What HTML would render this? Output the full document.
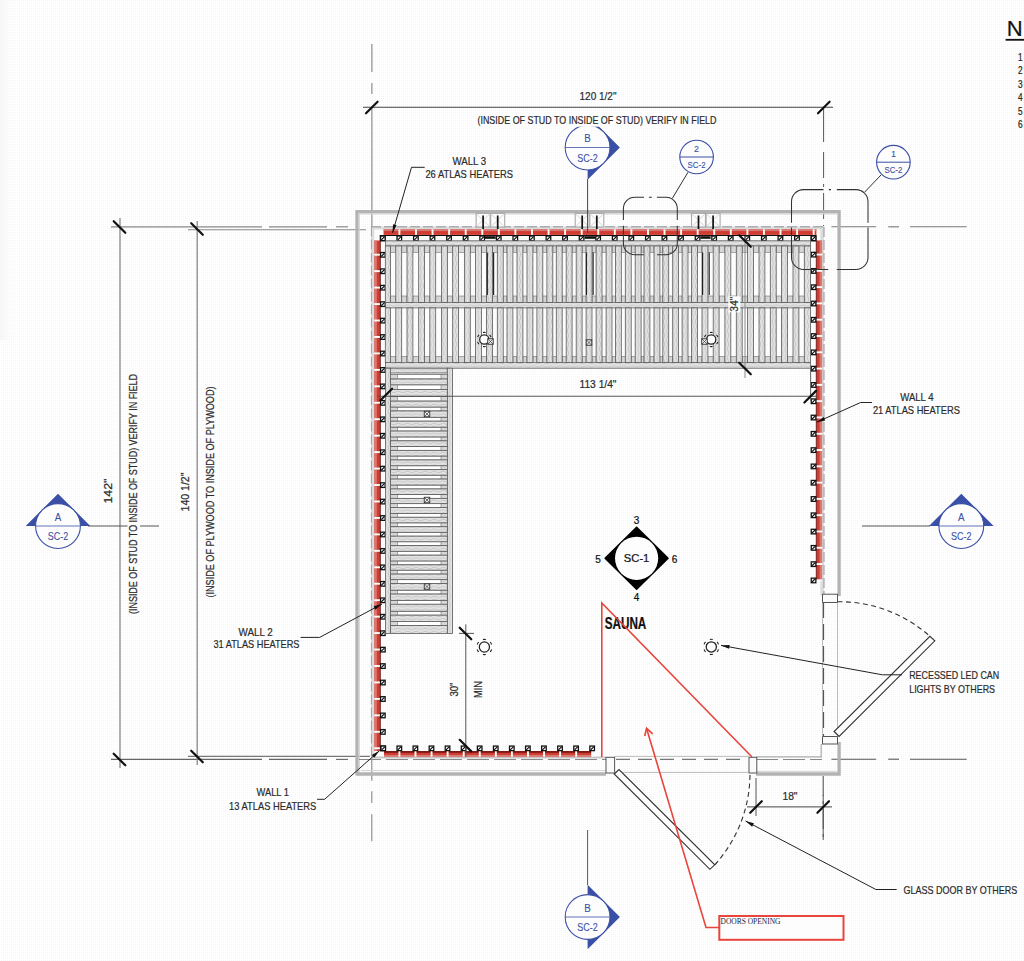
<!DOCTYPE html><html><head><meta charset="utf-8"><style>html,body{margin:0;padding:0;background:#fdfdfd;overflow:hidden}svg{display:block}</style></head><body><svg width="1024" height="961" viewBox="0 0 1024 961">
<defs><linearGradient id="lg" x1="0" x2="1" y1="0" y2="0"><stop offset="0" stop-color="#ececec"/><stop offset="1" stop-color="#fdfdfd" stop-opacity="0"/></linearGradient><pattern id="wh" width="9" height="3.2" patternUnits="userSpaceOnUse"><rect width="9" height="3.2" fill="#e2e2e2"/><path d="M0,1.6 Q2.25,0.2 4.5,1.6 T9,1.6" fill="none" stroke="#bcbcbc" stroke-width="0.8"/></pattern><pattern id="wv" width="9" height="3.2" patternUnits="userSpaceOnUse" patternTransform="rotate(90)"><rect width="9" height="3.2" fill="#e2e2e2"/><path d="M0,1.6 Q2.25,0.2 4.5,1.6 T9,1.6" fill="none" stroke="#bcbcbc" stroke-width="0.8"/></pattern><linearGradient id="lg2" x1="0" x2="0" y1="0" y2="1"><stop offset="0" stop-color="#fff" stop-opacity="0"/><stop offset="0.7" stop-color="#fff" stop-opacity="0"/><stop offset="1" stop-color="#fdfdfd" stop-opacity="1"/></linearGradient></defs>
<pattern id="dots" width="2" height="2" patternUnits="userSpaceOnUse"><rect width="2" height="2" fill="#ffffff"/><rect x="1" y="0" width="1" height="1" fill="#f6f6f6"/></pattern>
<rect x="0" y="0" width="1024" height="961" fill="url(#dots)"/>
<rect x="0" y="0" width="14" height="340" fill="url(#lg)" opacity="0.45"/>
<line x1="371.9" y1="44" x2="371.9" y2="96" stroke="#777" stroke-width="1" stroke-dasharray="28 11 11 11"/>
<line x1="371.9" y1="107" x2="371.9" y2="226" stroke="#777" stroke-width="1" />
<line x1="371.8" y1="757" x2="371.8" y2="780.8" stroke="#888" stroke-width="1.1" />
<line x1="371.8" y1="791.3" x2="371.8" y2="802.9" stroke="#888" stroke-width="1.1" />
<line x1="371.8" y1="814.2" x2="371.8" y2="841.3" stroke="#888" stroke-width="1.1" />
<line x1="823.6" y1="107" x2="823.6" y2="142" stroke="#555" stroke-width="1" />
<line x1="823.6" y1="152" x2="823.6" y2="226" stroke="#555" stroke-width="1" stroke-dasharray="26 6 3 6"/>
<line x1="823.6" y1="602" x2="823.6" y2="737" stroke="#444" stroke-width="1" stroke-dasharray="16 6"/>
<line x1="823.2" y1="776" x2="823.2" y2="840" stroke="#444" stroke-width="1" stroke-dasharray="20 5 3 5"/>
<line x1="831.4" y1="226.8" x2="876.2" y2="226.8" stroke="#777" stroke-width="1.1" />
<line x1="888.2" y1="226.8" x2="899" y2="226.8" stroke="#777" stroke-width="1.1" />
<line x1="910" y1="226.8" x2="966.7" y2="226.8" stroke="#777" stroke-width="1.1" />
<line x1="111" y1="226.8" x2="262" y2="226.8" stroke="#888" stroke-width="1.2" />
<line x1="269" y1="226.8" x2="327" y2="226.8" stroke="#888" stroke-width="1.2" />
<line x1="336" y1="226.8" x2="348" y2="226.8" stroke="#888" stroke-width="1.2" />
<line x1="188" y1="229.8" x2="366" y2="229.8" stroke="#888" stroke-width="1.1" />
<line x1="111" y1="759.4" x2="262" y2="759.4" stroke="#666" stroke-width="1.1" />
<line x1="269" y1="759.4" x2="327" y2="759.4" stroke="#666" stroke-width="1.1" />
<line x1="336" y1="759.4" x2="348" y2="759.4" stroke="#666" stroke-width="1.1" />
<line x1="188" y1="756.3" x2="370" y2="756.3" stroke="#555" stroke-width="1" />
<line x1="831.4" y1="759.2" x2="876.2" y2="759.2" stroke="#555" stroke-width="1.1" />
<line x1="888.2" y1="759.2" x2="899" y2="759.2" stroke="#555" stroke-width="1.1" />
<line x1="910" y1="759.2" x2="966.7" y2="759.2" stroke="#555" stroke-width="1.1" />
<line x1="363" y1="107.3" x2="833" y2="107.3" stroke="#444" stroke-width="1.1" />
<line x1="366" y1="113.3" x2="377.6" y2="101.7" stroke="#111" stroke-width="2.2" stroke-linecap="round"/>
<line x1="818" y1="113.3" x2="829.6" y2="101.7" stroke="#111" stroke-width="2.2" stroke-linecap="round"/>
<text x="598" y="99.6" font-family='"Liberation Sans", sans-serif' font-size="11.5" fill="#2a2a2a" text-anchor="middle" font-weight="normal" textLength="37" lengthAdjust="spacingAndGlyphs" stroke="#2a2a2a" stroke-width="0.22" >120 1/2"</text>
<text x="597" y="123.5" font-family='"Liberation Sans", sans-serif' font-size="11.5" fill="#2a2a2a" text-anchor="middle" font-weight="normal" textLength="239" lengthAdjust="spacingAndGlyphs" stroke="#2a2a2a" stroke-width="0.22" >(INSIDE OF STUD TO INSIDE OF STUD) VERIFY IN FIELD</text>
<line x1="120" y1="218" x2="120" y2="768" stroke="#888" stroke-width="1.3" />
<line x1="197.2" y1="221" x2="197.2" y2="765" stroke="#888" stroke-width="1.3" />
<line x1="113.7" y1="221.2" x2="125.3" y2="232.8" stroke="#111" stroke-width="2.2" stroke-linecap="round"/>
<line x1="191.2" y1="223.2" x2="202.8" y2="234.8" stroke="#111" stroke-width="2.2" stroke-linecap="round"/>
<line x1="113.7" y1="753.7" x2="125.3" y2="765.3" stroke="#111" stroke-width="2.2" stroke-linecap="round"/>
<line x1="191.2" y1="750.7" x2="202.8" y2="762.3" stroke="#111" stroke-width="2.2" stroke-linecap="round"/>
<text x="0" y="0" font-family='"Liberation Sans", sans-serif' font-size="11" fill="#2a2a2a" text-anchor="middle" font-weight="normal" textLength="25" lengthAdjust="spacingAndGlyphs" stroke="#2a2a2a" stroke-width="0.22" transform="translate(111.8,491) rotate(-90)">142"</text>
<text x="0" y="0" font-family='"Liberation Sans", sans-serif' font-size="11" fill="#2a2a2a" text-anchor="middle" font-weight="normal" textLength="240" lengthAdjust="spacingAndGlyphs" stroke="#2a2a2a" stroke-width="0.22" transform="translate(137,494) rotate(-90)">(INSIDE OF STUD TO INSIDE OF STUD) VERIFY IN FIELD</text>
<text x="0" y="0" font-family='"Liberation Sans", sans-serif' font-size="11" fill="#2a2a2a" text-anchor="middle" font-weight="normal" textLength="39" lengthAdjust="spacingAndGlyphs" stroke="#2a2a2a" stroke-width="0.22" transform="translate(189,492) rotate(-90)">140 1/2"</text>
<text x="0" y="0" font-family='"Liberation Sans", sans-serif' font-size="11" fill="#2a2a2a" text-anchor="middle" font-weight="normal" textLength="211" lengthAdjust="spacingAndGlyphs" stroke="#2a2a2a" stroke-width="0.22" transform="translate(214,492) rotate(-90)">(INSIDE OF PLYWOOD TO INSIDE OF PLYWOOD)</text>
<line x1="88" y1="526" x2="127.5" y2="526" stroke="#555" stroke-width="1" />
<line x1="140" y1="526" x2="159" y2="526" stroke="#555" stroke-width="1" />
<line x1="862" y1="526" x2="930" y2="526" stroke="#555" stroke-width="1" />
<g id="room">
<path d="M357,775.5 L357,211.6 L839.1,211.6 L839.1,596" fill="none" stroke="#b3b3b3" stroke-width="3.3"/>
<line x1="359.3" y1="213.9" x2="837" y2="213.9" stroke="#d2d2d2" stroke-width="1.1" />
<line x1="359.3" y1="213.9" x2="359.3" y2="772" stroke="#d2d2d2" stroke-width="1.1" />
<path d="M357,774 L606,774" fill="none" stroke="#b3b3b3" stroke-width="3.3"/>
<path d="M756,774 L839.1,774 L839.1,742" fill="none" stroke="#b3b3b3" stroke-width="3.3"/>
<line x1="757" y1="771.3" x2="837" y2="771.3" stroke="#d2d2d2" stroke-width="1" />
<rect x="371" y="226.5" width="452" height="3" fill="#dcdcdc" stroke="none" stroke-width="1" />
<rect x="371" y="226.5" width="3.3" height="531" fill="#dcdcdc" stroke="none" stroke-width="1" />
<rect x="820.3" y="226.5" width="3.6" height="369" fill="#dcdcdc" stroke="none" stroke-width="1" />
<line x1="371" y1="226.8" x2="824" y2="226.8" stroke="#888" stroke-width="0.9" stroke-dasharray="10 3"/>
<line x1="371.4" y1="226.5" x2="371.4" y2="758" stroke="#999" stroke-width="0.9" stroke-dasharray="10 3"/>
<line x1="824" y1="227" x2="824" y2="595" stroke="#888" stroke-width="0.9" stroke-dasharray="10 3"/>
<rect x="371" y="756.5" width="235" height="2" fill="#c8c8c8" stroke="none" stroke-width="1" />
<line x1="359" y1="759.5" x2="606" y2="759.5" stroke="#888" stroke-width="1" stroke-dasharray="22 5"/>
<line x1="361" y1="770.6" x2="606" y2="770.6" stroke="#d0d0d0" stroke-width="1" />
<line x1="756.5" y1="756.8" x2="821.5" y2="756.8" stroke="#aaa" stroke-width="1.2" />
<line x1="756" y1="759.5" x2="822" y2="759.5" stroke="#888" stroke-width="1" stroke-dasharray="22 5"/>
<line x1="821.2" y1="744" x2="821.2" y2="757.4" stroke="#aaa" stroke-width="1.2" />
<rect x="606" y="757.3" width="8.6" height="15.7" fill="#fafafa" stroke="#555" stroke-width="1" />
<rect x="749" y="757.3" width="7.8" height="15.7" fill="#fafafa" stroke="#555" stroke-width="1" />
<rect x="822.5" y="594.2" width="15" height="8.3" fill="#fafafa" stroke="#555" stroke-width="1" />
<rect x="822.5" y="736.5" width="15" height="7.5" fill="#fafafa" stroke="#555" stroke-width="1" />
<line x1="614.6" y1="756.4" x2="749" y2="756.4" stroke="#aaa" stroke-width="0.8" />
<line x1="614.6" y1="772.4" x2="749" y2="772.4" stroke="#aaa" stroke-width="0.8" />
<line x1="616" y1="759.3" x2="748" y2="759.3" stroke="#555" stroke-width="1" stroke-dasharray="14 8"/>
<line x1="822.5" y1="602.5" x2="822.5" y2="736.5" stroke="#aaa" stroke-width="0.8" />
<line x1="837.5" y1="602.5" x2="837.5" y2="736.5" stroke="#aaa" stroke-width="0.8" />
<rect x="476.1" y="213.4" width="14" height="13.6" fill="#fbfbfb" stroke="#aaa" stroke-width="1.1" />
<line x1="477.1" y1="214.5" x2="489.1" y2="226" stroke="#ccc" stroke-width="0.8" />
<line x1="489.1" y1="214.5" x2="477.1" y2="226" stroke="#ccc" stroke-width="0.8" />
<line x1="483.1" y1="215.5" x2="483.1" y2="229" stroke="#111" stroke-width="1.7" />
<line x1="483.1" y1="229" x2="483.1" y2="237" stroke="#777" stroke-width="1" />
<rect x="490.7" y="213.4" width="14" height="13.6" fill="#fbfbfb" stroke="#aaa" stroke-width="1.1" />
<line x1="491.7" y1="214.5" x2="503.7" y2="226" stroke="#ccc" stroke-width="0.8" />
<line x1="503.7" y1="214.5" x2="491.7" y2="226" stroke="#ccc" stroke-width="0.8" />
<line x1="497.7" y1="215.5" x2="497.7" y2="229" stroke="#111" stroke-width="1.7" />
<line x1="497.7" y1="229" x2="497.7" y2="237" stroke="#777" stroke-width="1" />
<rect x="575.2" y="213.4" width="14" height="13.6" fill="#fbfbfb" stroke="#aaa" stroke-width="1.1" />
<line x1="576.2" y1="214.5" x2="588.2" y2="226" stroke="#ccc" stroke-width="0.8" />
<line x1="588.2" y1="214.5" x2="576.2" y2="226" stroke="#ccc" stroke-width="0.8" />
<line x1="582.2" y1="215.5" x2="582.2" y2="229" stroke="#111" stroke-width="1.7" />
<line x1="582.2" y1="229" x2="582.2" y2="237" stroke="#777" stroke-width="1" />
<rect x="589.8" y="213.4" width="14" height="13.6" fill="#fbfbfb" stroke="#aaa" stroke-width="1.1" />
<line x1="590.8" y1="214.5" x2="602.8" y2="226" stroke="#ccc" stroke-width="0.8" />
<line x1="602.8" y1="214.5" x2="590.8" y2="226" stroke="#ccc" stroke-width="0.8" />
<line x1="596.8" y1="215.5" x2="596.8" y2="229" stroke="#111" stroke-width="1.7" />
<line x1="596.8" y1="229" x2="596.8" y2="237" stroke="#777" stroke-width="1" />
<rect x="691.5" y="213.4" width="14" height="13.6" fill="#fbfbfb" stroke="#aaa" stroke-width="1.1" />
<line x1="692.5" y1="214.5" x2="704.5" y2="226" stroke="#ccc" stroke-width="0.8" />
<line x1="704.5" y1="214.5" x2="692.5" y2="226" stroke="#ccc" stroke-width="0.8" />
<line x1="698.5" y1="215.5" x2="698.5" y2="229" stroke="#111" stroke-width="1.7" />
<line x1="698.5" y1="229" x2="698.5" y2="237" stroke="#777" stroke-width="1" />
<rect x="706.1" y="213.4" width="14" height="13.6" fill="#fbfbfb" stroke="#aaa" stroke-width="1.1" />
<line x1="707.1" y1="214.5" x2="719.1" y2="226" stroke="#ccc" stroke-width="0.8" />
<line x1="719.1" y1="214.5" x2="707.1" y2="226" stroke="#ccc" stroke-width="0.8" />
<line x1="713.1" y1="215.5" x2="713.1" y2="229" stroke="#111" stroke-width="1.7" />
<line x1="713.1" y1="229" x2="713.1" y2="237" stroke="#777" stroke-width="1" />
</g>
<rect x="383.6" y="229.3" width="432.8" height="5.6" fill="#d13b31" stroke="none" stroke-width="1" />
<rect x="383.6" y="229.3" width="432.8" height="1.8" fill="#d88a85" stroke="none" stroke-width="1" opacity="0.8"/>
<rect x="398.47" y="229.3" width="1.9" height="5.6" fill="#fff" stroke="none" stroke-width="1" />
<rect x="415.04" y="229.3" width="1.9" height="5.6" fill="#fff" stroke="none" stroke-width="1" />
<rect x="431.61" y="229.3" width="1.9" height="5.6" fill="#fff" stroke="none" stroke-width="1" />
<rect x="448.18" y="229.3" width="1.9" height="5.6" fill="#fff" stroke="none" stroke-width="1" />
<rect x="464.75" y="229.3" width="1.9" height="5.6" fill="#fff" stroke="none" stroke-width="1" />
<rect x="481.32" y="229.3" width="1.9" height="5.6" fill="#fff" stroke="none" stroke-width="1" />
<rect x="497.88" y="229.3" width="1.9" height="5.6" fill="#fff" stroke="none" stroke-width="1" />
<rect x="514.45" y="229.3" width="1.9" height="5.6" fill="#fff" stroke="none" stroke-width="1" />
<rect x="531.02" y="229.3" width="1.9" height="5.6" fill="#fff" stroke="none" stroke-width="1" />
<rect x="547.59" y="229.3" width="1.9" height="5.6" fill="#fff" stroke="none" stroke-width="1" />
<rect x="564.16" y="229.3" width="1.9" height="5.6" fill="#fff" stroke="none" stroke-width="1" />
<rect x="580.73" y="229.3" width="1.9" height="5.6" fill="#fff" stroke="none" stroke-width="1" />
<rect x="597.3" y="229.3" width="1.9" height="5.6" fill="#fff" stroke="none" stroke-width="1" />
<rect x="613.87" y="229.3" width="1.9" height="5.6" fill="#fff" stroke="none" stroke-width="1" />
<rect x="630.44" y="229.3" width="1.9" height="5.6" fill="#fff" stroke="none" stroke-width="1" />
<rect x="647.01" y="229.3" width="1.9" height="5.6" fill="#fff" stroke="none" stroke-width="1" />
<rect x="663.58" y="229.3" width="1.9" height="5.6" fill="#fff" stroke="none" stroke-width="1" />
<rect x="680.15" y="229.3" width="1.9" height="5.6" fill="#fff" stroke="none" stroke-width="1" />
<rect x="696.72" y="229.3" width="1.9" height="5.6" fill="#fff" stroke="none" stroke-width="1" />
<rect x="713.28" y="229.3" width="1.9" height="5.6" fill="#fff" stroke="none" stroke-width="1" />
<rect x="729.85" y="229.3" width="1.9" height="5.6" fill="#fff" stroke="none" stroke-width="1" />
<rect x="746.42" y="229.3" width="1.9" height="5.6" fill="#fff" stroke="none" stroke-width="1" />
<rect x="762.99" y="229.3" width="1.9" height="5.6" fill="#fff" stroke="none" stroke-width="1" />
<rect x="779.56" y="229.3" width="1.9" height="5.6" fill="#fff" stroke="none" stroke-width="1" />
<rect x="796.13" y="229.3" width="1.9" height="5.6" fill="#fff" stroke="none" stroke-width="1" />
<rect x="812.7" y="229.3" width="1.9" height="5.6" fill="#fff" stroke="none" stroke-width="1" />
<line x1="379.8" y1="235.5" x2="816.4" y2="235.5" stroke="#111" stroke-width="1" />
<rect x="380.45" y="236.05" width="4.6" height="4.6" fill="#fff" stroke="#111" stroke-width="1.3" />
<line x1="381.2" y1="239.9" x2="384.3" y2="236.8" stroke="#111" stroke-width="1.2" />
<rect x="397.02" y="236.05" width="4.6" height="4.6" fill="#fff" stroke="#111" stroke-width="1.3" />
<line x1="397.77" y1="239.9" x2="400.87" y2="236.8" stroke="#111" stroke-width="1.2" />
<rect x="413.59" y="236.05" width="4.6" height="4.6" fill="#fff" stroke="#111" stroke-width="1.3" />
<line x1="414.34" y1="239.9" x2="417.44" y2="236.8" stroke="#111" stroke-width="1.2" />
<rect x="430.16" y="236.05" width="4.6" height="4.6" fill="#fff" stroke="#111" stroke-width="1.3" />
<line x1="430.91" y1="239.9" x2="434.01" y2="236.8" stroke="#111" stroke-width="1.2" />
<rect x="446.73" y="236.05" width="4.6" height="4.6" fill="#fff" stroke="#111" stroke-width="1.3" />
<line x1="447.48" y1="239.9" x2="450.58" y2="236.8" stroke="#111" stroke-width="1.2" />
<rect x="463.3" y="236.05" width="4.6" height="4.6" fill="#fff" stroke="#111" stroke-width="1.3" />
<line x1="464.05" y1="239.9" x2="467.15" y2="236.8" stroke="#111" stroke-width="1.2" />
<rect x="479.87" y="236.05" width="4.6" height="4.6" fill="#fff" stroke="#111" stroke-width="1.3" />
<line x1="480.62" y1="239.9" x2="483.72" y2="236.8" stroke="#111" stroke-width="1.2" />
<rect x="496.43" y="236.05" width="4.6" height="4.6" fill="#fff" stroke="#111" stroke-width="1.3" />
<line x1="497.18" y1="239.9" x2="500.28" y2="236.8" stroke="#111" stroke-width="1.2" />
<rect x="513" y="236.05" width="4.6" height="4.6" fill="#fff" stroke="#111" stroke-width="1.3" />
<line x1="513.75" y1="239.9" x2="516.85" y2="236.8" stroke="#111" stroke-width="1.2" />
<rect x="529.57" y="236.05" width="4.6" height="4.6" fill="#fff" stroke="#111" stroke-width="1.3" />
<line x1="530.32" y1="239.9" x2="533.42" y2="236.8" stroke="#111" stroke-width="1.2" />
<rect x="546.14" y="236.05" width="4.6" height="4.6" fill="#fff" stroke="#111" stroke-width="1.3" />
<line x1="546.89" y1="239.9" x2="549.99" y2="236.8" stroke="#111" stroke-width="1.2" />
<rect x="562.71" y="236.05" width="4.6" height="4.6" fill="#fff" stroke="#111" stroke-width="1.3" />
<line x1="563.46" y1="239.9" x2="566.56" y2="236.8" stroke="#111" stroke-width="1.2" />
<rect x="579.28" y="236.05" width="4.6" height="4.6" fill="#fff" stroke="#111" stroke-width="1.3" />
<line x1="580.03" y1="239.9" x2="583.13" y2="236.8" stroke="#111" stroke-width="1.2" />
<rect x="595.85" y="236.05" width="4.6" height="4.6" fill="#fff" stroke="#111" stroke-width="1.3" />
<line x1="596.6" y1="239.9" x2="599.7" y2="236.8" stroke="#111" stroke-width="1.2" />
<rect x="612.42" y="236.05" width="4.6" height="4.6" fill="#fff" stroke="#111" stroke-width="1.3" />
<line x1="613.17" y1="239.9" x2="616.27" y2="236.8" stroke="#111" stroke-width="1.2" />
<rect x="628.99" y="236.05" width="4.6" height="4.6" fill="#fff" stroke="#111" stroke-width="1.3" />
<line x1="629.74" y1="239.9" x2="632.84" y2="236.8" stroke="#111" stroke-width="1.2" />
<rect x="645.56" y="236.05" width="4.6" height="4.6" fill="#fff" stroke="#111" stroke-width="1.3" />
<line x1="646.31" y1="239.9" x2="649.41" y2="236.8" stroke="#111" stroke-width="1.2" />
<rect x="662.13" y="236.05" width="4.6" height="4.6" fill="#fff" stroke="#111" stroke-width="1.3" />
<line x1="662.88" y1="239.9" x2="665.98" y2="236.8" stroke="#111" stroke-width="1.2" />
<rect x="678.7" y="236.05" width="4.6" height="4.6" fill="#fff" stroke="#111" stroke-width="1.3" />
<line x1="679.45" y1="239.9" x2="682.55" y2="236.8" stroke="#111" stroke-width="1.2" />
<rect x="695.27" y="236.05" width="4.6" height="4.6" fill="#fff" stroke="#111" stroke-width="1.3" />
<line x1="696.02" y1="239.9" x2="699.12" y2="236.8" stroke="#111" stroke-width="1.2" />
<rect x="711.83" y="236.05" width="4.6" height="4.6" fill="#fff" stroke="#111" stroke-width="1.3" />
<line x1="712.58" y1="239.9" x2="715.68" y2="236.8" stroke="#111" stroke-width="1.2" />
<rect x="728.4" y="236.05" width="4.6" height="4.6" fill="#fff" stroke="#111" stroke-width="1.3" />
<line x1="729.15" y1="239.9" x2="732.25" y2="236.8" stroke="#111" stroke-width="1.2" />
<rect x="744.97" y="236.05" width="4.6" height="4.6" fill="#fff" stroke="#111" stroke-width="1.3" />
<line x1="745.72" y1="239.9" x2="748.82" y2="236.8" stroke="#111" stroke-width="1.2" />
<rect x="761.54" y="236.05" width="4.6" height="4.6" fill="#fff" stroke="#111" stroke-width="1.3" />
<line x1="762.29" y1="239.9" x2="765.39" y2="236.8" stroke="#111" stroke-width="1.2" />
<rect x="778.11" y="236.05" width="4.6" height="4.6" fill="#fff" stroke="#111" stroke-width="1.3" />
<line x1="778.86" y1="239.9" x2="781.96" y2="236.8" stroke="#111" stroke-width="1.2" />
<rect x="794.68" y="236.05" width="4.6" height="4.6" fill="#fff" stroke="#111" stroke-width="1.3" />
<line x1="795.43" y1="239.9" x2="798.53" y2="236.8" stroke="#111" stroke-width="1.2" />
<rect x="811.25" y="236.05" width="4.6" height="4.6" fill="#fff" stroke="#111" stroke-width="1.3" />
<line x1="812" y1="239.9" x2="815.1" y2="236.8" stroke="#111" stroke-width="1.2" />
<rect x="374.2" y="240.5" width="6.1" height="510.5" fill="#d13b31" stroke="none" stroke-width="1" />
<rect x="374.2" y="240.5" width="2.6" height="510.5" fill="#d88a85" stroke="none" stroke-width="1" opacity="0.8"/>
<line x1="380.3" y1="240.5" x2="380.3" y2="751" stroke="#6a1a15" stroke-width="0.9" />
<rect x="374.2" y="253.75" width="6.1" height="1.9" fill="#fff" stroke="none" stroke-width="1" />
<rect x="374.2" y="270.2" width="6.1" height="1.9" fill="#fff" stroke="none" stroke-width="1" />
<rect x="374.2" y="286.65" width="6.1" height="1.9" fill="#fff" stroke="none" stroke-width="1" />
<rect x="374.2" y="303.11" width="6.1" height="1.9" fill="#fff" stroke="none" stroke-width="1" />
<rect x="374.2" y="319.56" width="6.1" height="1.9" fill="#fff" stroke="none" stroke-width="1" />
<rect x="374.2" y="336.01" width="6.1" height="1.9" fill="#fff" stroke="none" stroke-width="1" />
<rect x="374.2" y="352.46" width="6.1" height="1.9" fill="#fff" stroke="none" stroke-width="1" />
<rect x="374.2" y="368.91" width="6.1" height="1.9" fill="#fff" stroke="none" stroke-width="1" />
<rect x="374.2" y="385.36" width="6.1" height="1.9" fill="#fff" stroke="none" stroke-width="1" />
<rect x="374.2" y="401.82" width="6.1" height="1.9" fill="#fff" stroke="none" stroke-width="1" />
<rect x="374.2" y="418.27" width="6.1" height="1.9" fill="#fff" stroke="none" stroke-width="1" />
<rect x="374.2" y="434.72" width="6.1" height="1.9" fill="#fff" stroke="none" stroke-width="1" />
<rect x="374.2" y="451.17" width="6.1" height="1.9" fill="#fff" stroke="none" stroke-width="1" />
<rect x="374.2" y="467.62" width="6.1" height="1.9" fill="#fff" stroke="none" stroke-width="1" />
<rect x="374.2" y="484.07" width="6.1" height="1.9" fill="#fff" stroke="none" stroke-width="1" />
<rect x="374.2" y="500.53" width="6.1" height="1.9" fill="#fff" stroke="none" stroke-width="1" />
<rect x="374.2" y="516.98" width="6.1" height="1.9" fill="#fff" stroke="none" stroke-width="1" />
<rect x="374.2" y="533.43" width="6.1" height="1.9" fill="#fff" stroke="none" stroke-width="1" />
<rect x="374.2" y="549.88" width="6.1" height="1.9" fill="#fff" stroke="none" stroke-width="1" />
<rect x="374.2" y="566.33" width="6.1" height="1.9" fill="#fff" stroke="none" stroke-width="1" />
<rect x="374.2" y="582.78" width="6.1" height="1.9" fill="#fff" stroke="none" stroke-width="1" />
<rect x="374.2" y="599.24" width="6.1" height="1.9" fill="#fff" stroke="none" stroke-width="1" />
<rect x="374.2" y="615.69" width="6.1" height="1.9" fill="#fff" stroke="none" stroke-width="1" />
<rect x="374.2" y="632.14" width="6.1" height="1.9" fill="#fff" stroke="none" stroke-width="1" />
<rect x="374.2" y="648.59" width="6.1" height="1.9" fill="#fff" stroke="none" stroke-width="1" />
<rect x="374.2" y="665.04" width="6.1" height="1.9" fill="#fff" stroke="none" stroke-width="1" />
<rect x="374.2" y="681.49" width="6.1" height="1.9" fill="#fff" stroke="none" stroke-width="1" />
<rect x="374.2" y="697.95" width="6.1" height="1.9" fill="#fff" stroke="none" stroke-width="1" />
<rect x="374.2" y="714.4" width="6.1" height="1.9" fill="#fff" stroke="none" stroke-width="1" />
<rect x="374.2" y="730.85" width="6.1" height="1.9" fill="#fff" stroke="none" stroke-width="1" />
<rect x="374.2" y="747.3" width="6.1" height="1.9" fill="#fff" stroke="none" stroke-width="1" />
<rect x="380.55" y="236.05" width="4.6" height="4.6" fill="#fff" stroke="#111" stroke-width="1.3" />
<line x1="381.3" y1="239.9" x2="384.4" y2="236.8" stroke="#111" stroke-width="1.2" />
<rect x="380.55" y="252.5" width="4.6" height="4.6" fill="#fff" stroke="#111" stroke-width="1.3" />
<line x1="381.3" y1="256.35" x2="384.4" y2="253.25" stroke="#111" stroke-width="1.2" />
<rect x="380.55" y="268.95" width="4.6" height="4.6" fill="#fff" stroke="#111" stroke-width="1.3" />
<line x1="381.3" y1="272.8" x2="384.4" y2="269.7" stroke="#111" stroke-width="1.2" />
<rect x="380.55" y="285.4" width="4.6" height="4.6" fill="#fff" stroke="#111" stroke-width="1.3" />
<line x1="381.3" y1="289.25" x2="384.4" y2="286.15" stroke="#111" stroke-width="1.2" />
<rect x="380.55" y="301.86" width="4.6" height="4.6" fill="#fff" stroke="#111" stroke-width="1.3" />
<line x1="381.3" y1="305.71" x2="384.4" y2="302.61" stroke="#111" stroke-width="1.2" />
<rect x="380.55" y="318.31" width="4.6" height="4.6" fill="#fff" stroke="#111" stroke-width="1.3" />
<line x1="381.3" y1="322.16" x2="384.4" y2="319.06" stroke="#111" stroke-width="1.2" />
<rect x="380.55" y="334.76" width="4.6" height="4.6" fill="#fff" stroke="#111" stroke-width="1.3" />
<line x1="381.3" y1="338.61" x2="384.4" y2="335.51" stroke="#111" stroke-width="1.2" />
<rect x="380.55" y="351.21" width="4.6" height="4.6" fill="#fff" stroke="#111" stroke-width="1.3" />
<line x1="381.3" y1="355.06" x2="384.4" y2="351.96" stroke="#111" stroke-width="1.2" />
<rect x="380.55" y="367.66" width="4.6" height="4.6" fill="#fff" stroke="#111" stroke-width="1.3" />
<line x1="381.3" y1="371.51" x2="384.4" y2="368.41" stroke="#111" stroke-width="1.2" />
<rect x="380.55" y="384.11" width="4.6" height="4.6" fill="#fff" stroke="#111" stroke-width="1.3" />
<line x1="381.3" y1="387.96" x2="384.4" y2="384.86" stroke="#111" stroke-width="1.2" />
<rect x="380.55" y="400.57" width="4.6" height="4.6" fill="#fff" stroke="#111" stroke-width="1.3" />
<line x1="381.3" y1="404.42" x2="384.4" y2="401.32" stroke="#111" stroke-width="1.2" />
<rect x="380.55" y="417.02" width="4.6" height="4.6" fill="#fff" stroke="#111" stroke-width="1.3" />
<line x1="381.3" y1="420.87" x2="384.4" y2="417.77" stroke="#111" stroke-width="1.2" />
<rect x="380.55" y="433.47" width="4.6" height="4.6" fill="#fff" stroke="#111" stroke-width="1.3" />
<line x1="381.3" y1="437.32" x2="384.4" y2="434.22" stroke="#111" stroke-width="1.2" />
<rect x="380.55" y="449.92" width="4.6" height="4.6" fill="#fff" stroke="#111" stroke-width="1.3" />
<line x1="381.3" y1="453.77" x2="384.4" y2="450.67" stroke="#111" stroke-width="1.2" />
<rect x="380.55" y="466.37" width="4.6" height="4.6" fill="#fff" stroke="#111" stroke-width="1.3" />
<line x1="381.3" y1="470.22" x2="384.4" y2="467.12" stroke="#111" stroke-width="1.2" />
<rect x="380.55" y="482.82" width="4.6" height="4.6" fill="#fff" stroke="#111" stroke-width="1.3" />
<line x1="381.3" y1="486.67" x2="384.4" y2="483.57" stroke="#111" stroke-width="1.2" />
<rect x="380.55" y="499.28" width="4.6" height="4.6" fill="#fff" stroke="#111" stroke-width="1.3" />
<line x1="381.3" y1="503.13" x2="384.4" y2="500.03" stroke="#111" stroke-width="1.2" />
<rect x="380.55" y="515.73" width="4.6" height="4.6" fill="#fff" stroke="#111" stroke-width="1.3" />
<line x1="381.3" y1="519.58" x2="384.4" y2="516.48" stroke="#111" stroke-width="1.2" />
<rect x="380.55" y="532.18" width="4.6" height="4.6" fill="#fff" stroke="#111" stroke-width="1.3" />
<line x1="381.3" y1="536.03" x2="384.4" y2="532.93" stroke="#111" stroke-width="1.2" />
<rect x="380.55" y="548.63" width="4.6" height="4.6" fill="#fff" stroke="#111" stroke-width="1.3" />
<line x1="381.3" y1="552.48" x2="384.4" y2="549.38" stroke="#111" stroke-width="1.2" />
<rect x="380.55" y="565.08" width="4.6" height="4.6" fill="#fff" stroke="#111" stroke-width="1.3" />
<line x1="381.3" y1="568.93" x2="384.4" y2="565.83" stroke="#111" stroke-width="1.2" />
<rect x="380.55" y="581.53" width="4.6" height="4.6" fill="#fff" stroke="#111" stroke-width="1.3" />
<line x1="381.3" y1="585.38" x2="384.4" y2="582.28" stroke="#111" stroke-width="1.2" />
<rect x="380.55" y="597.99" width="4.6" height="4.6" fill="#fff" stroke="#111" stroke-width="1.3" />
<line x1="381.3" y1="601.84" x2="384.4" y2="598.74" stroke="#111" stroke-width="1.2" />
<rect x="380.55" y="614.44" width="4.6" height="4.6" fill="#fff" stroke="#111" stroke-width="1.3" />
<line x1="381.3" y1="618.29" x2="384.4" y2="615.19" stroke="#111" stroke-width="1.2" />
<rect x="380.55" y="630.89" width="4.6" height="4.6" fill="#fff" stroke="#111" stroke-width="1.3" />
<line x1="381.3" y1="634.74" x2="384.4" y2="631.64" stroke="#111" stroke-width="1.2" />
<rect x="380.55" y="647.34" width="4.6" height="4.6" fill="#fff" stroke="#111" stroke-width="1.3" />
<line x1="381.3" y1="651.19" x2="384.4" y2="648.09" stroke="#111" stroke-width="1.2" />
<rect x="380.55" y="663.79" width="4.6" height="4.6" fill="#fff" stroke="#111" stroke-width="1.3" />
<line x1="381.3" y1="667.64" x2="384.4" y2="664.54" stroke="#111" stroke-width="1.2" />
<rect x="380.55" y="680.24" width="4.6" height="4.6" fill="#fff" stroke="#111" stroke-width="1.3" />
<line x1="381.3" y1="684.09" x2="384.4" y2="680.99" stroke="#111" stroke-width="1.2" />
<rect x="380.55" y="696.7" width="4.6" height="4.6" fill="#fff" stroke="#111" stroke-width="1.3" />
<line x1="381.3" y1="700.55" x2="384.4" y2="697.45" stroke="#111" stroke-width="1.2" />
<rect x="380.55" y="713.15" width="4.6" height="4.6" fill="#fff" stroke="#111" stroke-width="1.3" />
<line x1="381.3" y1="717" x2="384.4" y2="713.9" stroke="#111" stroke-width="1.2" />
<rect x="380.55" y="729.6" width="4.6" height="4.6" fill="#fff" stroke="#111" stroke-width="1.3" />
<line x1="381.3" y1="733.45" x2="384.4" y2="730.35" stroke="#111" stroke-width="1.2" />
<rect x="380.55" y="746.05" width="4.6" height="4.6" fill="#fff" stroke="#111" stroke-width="1.3" />
<line x1="381.3" y1="749.9" x2="384.4" y2="746.8" stroke="#111" stroke-width="1.2" />
<rect x="384" y="751" width="207.6" height="5.7" fill="#d13b31" stroke="none" stroke-width="1" />
<rect x="384" y="751" width="207.6" height="1.8" fill="#7a1a15" stroke="none" stroke-width="1" />
<rect x="384" y="754.9" width="207.6" height="1.8" fill="#d88a85" stroke="none" stroke-width="1" opacity="0.8"/>
<rect x="398.47" y="751" width="1.9" height="5.7" fill="#fff" stroke="none" stroke-width="1" />
<rect x="414.54" y="751" width="1.9" height="5.7" fill="#fff" stroke="none" stroke-width="1" />
<rect x="430.61" y="751" width="1.9" height="5.7" fill="#fff" stroke="none" stroke-width="1" />
<rect x="446.68" y="751" width="1.9" height="5.7" fill="#fff" stroke="none" stroke-width="1" />
<rect x="462.75" y="751" width="1.9" height="5.7" fill="#fff" stroke="none" stroke-width="1" />
<rect x="478.82" y="751" width="1.9" height="5.7" fill="#fff" stroke="none" stroke-width="1" />
<rect x="494.88" y="751" width="1.9" height="5.7" fill="#fff" stroke="none" stroke-width="1" />
<rect x="510.95" y="751" width="1.9" height="5.7" fill="#fff" stroke="none" stroke-width="1" />
<rect x="527.02" y="751" width="1.9" height="5.7" fill="#fff" stroke="none" stroke-width="1" />
<rect x="543.09" y="751" width="1.9" height="5.7" fill="#fff" stroke="none" stroke-width="1" />
<rect x="559.16" y="751" width="1.9" height="5.7" fill="#fff" stroke="none" stroke-width="1" />
<rect x="575.23" y="751" width="1.9" height="5.7" fill="#fff" stroke="none" stroke-width="1" />
<rect x="591.3" y="751" width="1.9" height="5.7" fill="#fff" stroke="none" stroke-width="1" />
<rect x="380.95" y="746.05" width="4.6" height="4.6" fill="#fff" stroke="#111" stroke-width="1.3" />
<line x1="381.7" y1="749.9" x2="384.8" y2="746.8" stroke="#111" stroke-width="1.2" />
<rect x="397.02" y="746.05" width="4.6" height="4.6" fill="#fff" stroke="#111" stroke-width="1.3" />
<line x1="397.77" y1="749.9" x2="400.87" y2="746.8" stroke="#111" stroke-width="1.2" />
<rect x="413.09" y="746.05" width="4.6" height="4.6" fill="#fff" stroke="#111" stroke-width="1.3" />
<line x1="413.84" y1="749.9" x2="416.94" y2="746.8" stroke="#111" stroke-width="1.2" />
<rect x="429.16" y="746.05" width="4.6" height="4.6" fill="#fff" stroke="#111" stroke-width="1.3" />
<line x1="429.91" y1="749.9" x2="433.01" y2="746.8" stroke="#111" stroke-width="1.2" />
<rect x="445.23" y="746.05" width="4.6" height="4.6" fill="#fff" stroke="#111" stroke-width="1.3" />
<line x1="445.98" y1="749.9" x2="449.08" y2="746.8" stroke="#111" stroke-width="1.2" />
<rect x="461.3" y="746.05" width="4.6" height="4.6" fill="#fff" stroke="#111" stroke-width="1.3" />
<line x1="462.05" y1="749.9" x2="465.15" y2="746.8" stroke="#111" stroke-width="1.2" />
<rect x="477.37" y="746.05" width="4.6" height="4.6" fill="#fff" stroke="#111" stroke-width="1.3" />
<line x1="478.12" y1="749.9" x2="481.22" y2="746.8" stroke="#111" stroke-width="1.2" />
<rect x="493.43" y="746.05" width="4.6" height="4.6" fill="#fff" stroke="#111" stroke-width="1.3" />
<line x1="494.18" y1="749.9" x2="497.28" y2="746.8" stroke="#111" stroke-width="1.2" />
<rect x="509.5" y="746.05" width="4.6" height="4.6" fill="#fff" stroke="#111" stroke-width="1.3" />
<line x1="510.25" y1="749.9" x2="513.35" y2="746.8" stroke="#111" stroke-width="1.2" />
<rect x="525.57" y="746.05" width="4.6" height="4.6" fill="#fff" stroke="#111" stroke-width="1.3" />
<line x1="526.32" y1="749.9" x2="529.42" y2="746.8" stroke="#111" stroke-width="1.2" />
<rect x="541.64" y="746.05" width="4.6" height="4.6" fill="#fff" stroke="#111" stroke-width="1.3" />
<line x1="542.39" y1="749.9" x2="545.49" y2="746.8" stroke="#111" stroke-width="1.2" />
<rect x="557.71" y="746.05" width="4.6" height="4.6" fill="#fff" stroke="#111" stroke-width="1.3" />
<line x1="558.46" y1="749.9" x2="561.56" y2="746.8" stroke="#111" stroke-width="1.2" />
<rect x="573.78" y="746.05" width="4.6" height="4.6" fill="#fff" stroke="#111" stroke-width="1.3" />
<line x1="574.53" y1="749.9" x2="577.63" y2="746.8" stroke="#111" stroke-width="1.2" />
<rect x="589.85" y="746.05" width="4.6" height="4.6" fill="#fff" stroke="#111" stroke-width="1.3" />
<line x1="590.6" y1="749.9" x2="593.7" y2="746.8" stroke="#111" stroke-width="1.2" />
<rect x="816.3" y="240.5" width="5.8" height="339.2" fill="#d13b31" stroke="none" stroke-width="1" />
<rect x="819.6" y="240.5" width="2.5" height="339.2" fill="#d88a85" stroke="none" stroke-width="1" opacity="0.8"/>
<line x1="816.3" y1="240.5" x2="816.3" y2="579.7" stroke="#6a1a15" stroke-width="0.9" />
<rect x="816.3" y="253.59" width="5.8" height="1.9" fill="#fff" stroke="none" stroke-width="1" />
<rect x="816.3" y="269.88" width="5.8" height="1.9" fill="#fff" stroke="none" stroke-width="1" />
<rect x="816.3" y="286.17" width="5.8" height="1.9" fill="#fff" stroke="none" stroke-width="1" />
<rect x="816.3" y="302.46" width="5.8" height="1.9" fill="#fff" stroke="none" stroke-width="1" />
<rect x="816.3" y="318.75" width="5.8" height="1.9" fill="#fff" stroke="none" stroke-width="1" />
<rect x="816.3" y="335.04" width="5.8" height="1.9" fill="#fff" stroke="none" stroke-width="1" />
<rect x="816.3" y="351.33" width="5.8" height="1.9" fill="#fff" stroke="none" stroke-width="1" />
<rect x="816.3" y="367.62" width="5.8" height="1.9" fill="#fff" stroke="none" stroke-width="1" />
<rect x="816.3" y="383.91" width="5.8" height="1.9" fill="#fff" stroke="none" stroke-width="1" />
<rect x="816.3" y="400.2" width="5.8" height="1.9" fill="#fff" stroke="none" stroke-width="1" />
<rect x="816.3" y="416.5" width="5.8" height="1.9" fill="#fff" stroke="none" stroke-width="1" />
<rect x="816.3" y="432.79" width="5.8" height="1.9" fill="#fff" stroke="none" stroke-width="1" />
<rect x="816.3" y="449.08" width="5.8" height="1.9" fill="#fff" stroke="none" stroke-width="1" />
<rect x="816.3" y="465.37" width="5.8" height="1.9" fill="#fff" stroke="none" stroke-width="1" />
<rect x="816.3" y="481.66" width="5.8" height="1.9" fill="#fff" stroke="none" stroke-width="1" />
<rect x="816.3" y="497.95" width="5.8" height="1.9" fill="#fff" stroke="none" stroke-width="1" />
<rect x="816.3" y="514.24" width="5.8" height="1.9" fill="#fff" stroke="none" stroke-width="1" />
<rect x="816.3" y="530.53" width="5.8" height="1.9" fill="#fff" stroke="none" stroke-width="1" />
<rect x="816.3" y="546.82" width="5.8" height="1.9" fill="#fff" stroke="none" stroke-width="1" />
<rect x="816.3" y="563.11" width="5.8" height="1.9" fill="#fff" stroke="none" stroke-width="1" />
<rect x="816.3" y="579.4" width="5.8" height="1.9" fill="#fff" stroke="none" stroke-width="1" />
<rect x="811.25" y="236.05" width="4.6" height="4.6" fill="#fff" stroke="#111" stroke-width="1.3" />
<line x1="812" y1="239.9" x2="815.1" y2="236.8" stroke="#111" stroke-width="1.2" />
<rect x="811.25" y="252.34" width="4.6" height="4.6" fill="#fff" stroke="#111" stroke-width="1.3" />
<line x1="812" y1="256.19" x2="815.1" y2="253.09" stroke="#111" stroke-width="1.2" />
<rect x="811.25" y="268.63" width="4.6" height="4.6" fill="#fff" stroke="#111" stroke-width="1.3" />
<line x1="812" y1="272.48" x2="815.1" y2="269.38" stroke="#111" stroke-width="1.2" />
<rect x="811.25" y="284.92" width="4.6" height="4.6" fill="#fff" stroke="#111" stroke-width="1.3" />
<line x1="812" y1="288.77" x2="815.1" y2="285.67" stroke="#111" stroke-width="1.2" />
<rect x="811.25" y="301.21" width="4.6" height="4.6" fill="#fff" stroke="#111" stroke-width="1.3" />
<line x1="812" y1="305.06" x2="815.1" y2="301.96" stroke="#111" stroke-width="1.2" />
<rect x="811.25" y="317.5" width="4.6" height="4.6" fill="#fff" stroke="#111" stroke-width="1.3" />
<line x1="812" y1="321.35" x2="815.1" y2="318.25" stroke="#111" stroke-width="1.2" />
<rect x="811.25" y="333.79" width="4.6" height="4.6" fill="#fff" stroke="#111" stroke-width="1.3" />
<line x1="812" y1="337.64" x2="815.1" y2="334.54" stroke="#111" stroke-width="1.2" />
<rect x="811.25" y="350.08" width="4.6" height="4.6" fill="#fff" stroke="#111" stroke-width="1.3" />
<line x1="812" y1="353.93" x2="815.1" y2="350.83" stroke="#111" stroke-width="1.2" />
<rect x="811.25" y="366.37" width="4.6" height="4.6" fill="#fff" stroke="#111" stroke-width="1.3" />
<line x1="812" y1="370.22" x2="815.1" y2="367.12" stroke="#111" stroke-width="1.2" />
<rect x="811.25" y="382.66" width="4.6" height="4.6" fill="#fff" stroke="#111" stroke-width="1.3" />
<line x1="812" y1="386.51" x2="815.1" y2="383.41" stroke="#111" stroke-width="1.2" />
<rect x="811.25" y="398.95" width="4.6" height="4.6" fill="#fff" stroke="#111" stroke-width="1.3" />
<line x1="812" y1="402.8" x2="815.1" y2="399.7" stroke="#111" stroke-width="1.2" />
<rect x="811.25" y="415.25" width="4.6" height="4.6" fill="#fff" stroke="#111" stroke-width="1.3" />
<line x1="812" y1="419.1" x2="815.1" y2="416" stroke="#111" stroke-width="1.2" />
<rect x="811.25" y="431.54" width="4.6" height="4.6" fill="#fff" stroke="#111" stroke-width="1.3" />
<line x1="812" y1="435.39" x2="815.1" y2="432.29" stroke="#111" stroke-width="1.2" />
<rect x="811.25" y="447.83" width="4.6" height="4.6" fill="#fff" stroke="#111" stroke-width="1.3" />
<line x1="812" y1="451.68" x2="815.1" y2="448.58" stroke="#111" stroke-width="1.2" />
<rect x="811.25" y="464.12" width="4.6" height="4.6" fill="#fff" stroke="#111" stroke-width="1.3" />
<line x1="812" y1="467.97" x2="815.1" y2="464.87" stroke="#111" stroke-width="1.2" />
<rect x="811.25" y="480.41" width="4.6" height="4.6" fill="#fff" stroke="#111" stroke-width="1.3" />
<line x1="812" y1="484.26" x2="815.1" y2="481.16" stroke="#111" stroke-width="1.2" />
<rect x="811.25" y="496.7" width="4.6" height="4.6" fill="#fff" stroke="#111" stroke-width="1.3" />
<line x1="812" y1="500.55" x2="815.1" y2="497.45" stroke="#111" stroke-width="1.2" />
<rect x="811.25" y="512.99" width="4.6" height="4.6" fill="#fff" stroke="#111" stroke-width="1.3" />
<line x1="812" y1="516.84" x2="815.1" y2="513.74" stroke="#111" stroke-width="1.2" />
<rect x="811.25" y="529.28" width="4.6" height="4.6" fill="#fff" stroke="#111" stroke-width="1.3" />
<line x1="812" y1="533.13" x2="815.1" y2="530.03" stroke="#111" stroke-width="1.2" />
<rect x="811.25" y="545.57" width="4.6" height="4.6" fill="#fff" stroke="#111" stroke-width="1.3" />
<line x1="812" y1="549.42" x2="815.1" y2="546.32" stroke="#111" stroke-width="1.2" />
<rect x="811.25" y="561.86" width="4.6" height="4.6" fill="#fff" stroke="#111" stroke-width="1.3" />
<line x1="812" y1="565.71" x2="815.1" y2="562.61" stroke="#111" stroke-width="1.2" />
<rect x="811.25" y="578.15" width="4.6" height="4.6" fill="#fff" stroke="#111" stroke-width="1.3" />
<line x1="812" y1="582" x2="815.1" y2="578.9" stroke="#111" stroke-width="1.2" />
<rect x="385.6" y="240.8" width="425" height="5.2" fill="url(#wh)" stroke="#5a5a5a" stroke-width="0.8" />
<rect x="385.6" y="302.4" width="425" height="5.5" fill="url(#wh)" stroke="#5a5a5a" stroke-width="0.8" />
<rect x="385.6" y="362.6" width="425" height="5.6" fill="url(#wh)" stroke="#5a5a5a" stroke-width="0.8" />
<rect x="390.5" y="246" width="5.3" height="6.3" fill="#d6d6d6" stroke="#5a5a5a" stroke-width="0.5" />
<rect x="390.5" y="296" width="5.3" height="6.4" fill="#d6d6d6" stroke="#5a5a5a" stroke-width="0.5" />
<rect x="390.5" y="356.5" width="5.3" height="6.1" fill="#d6d6d6" stroke="#5a5a5a" stroke-width="0.5" />
<rect x="385.3" y="246" width="5.2" height="56.4" fill="url(#wv)" stroke="#5a5a5a" stroke-width="0.8" />
<rect x="385.3" y="307.9" width="5.2" height="54.7" fill="url(#wv)" stroke="#5a5a5a" stroke-width="0.8" />
<rect x="401.7" y="246" width="5.3" height="6.3" fill="#d6d6d6" stroke="#5a5a5a" stroke-width="0.5" />
<rect x="401.7" y="296" width="5.3" height="6.4" fill="#d6d6d6" stroke="#5a5a5a" stroke-width="0.5" />
<rect x="401.7" y="356.5" width="5.3" height="6.1" fill="#d6d6d6" stroke="#5a5a5a" stroke-width="0.5" />
<rect x="395.8" y="246" width="5.9" height="56.4" fill="url(#wv)" stroke="#5a5a5a" stroke-width="0.8" />
<rect x="395.8" y="307.9" width="5.9" height="54.7" fill="url(#wv)" stroke="#5a5a5a" stroke-width="0.8" />
<rect x="412.9" y="246" width="5.8" height="6.3" fill="#d6d6d6" stroke="#5a5a5a" stroke-width="0.5" />
<rect x="412.9" y="296" width="5.8" height="6.4" fill="#d6d6d6" stroke="#5a5a5a" stroke-width="0.5" />
<rect x="412.9" y="356.5" width="5.8" height="6.1" fill="#d6d6d6" stroke="#5a5a5a" stroke-width="0.5" />
<rect x="407" y="246" width="5.9" height="56.4" fill="url(#wv)" stroke="#5a5a5a" stroke-width="0.8" />
<rect x="407" y="307.9" width="5.9" height="54.7" fill="url(#wv)" stroke="#5a5a5a" stroke-width="0.8" />
<rect x="424.6" y="246" width="5.2" height="6.3" fill="#d6d6d6" stroke="#5a5a5a" stroke-width="0.5" />
<rect x="424.6" y="296" width="5.2" height="6.4" fill="#d6d6d6" stroke="#5a5a5a" stroke-width="0.5" />
<rect x="424.6" y="356.5" width="5.2" height="6.1" fill="#d6d6d6" stroke="#5a5a5a" stroke-width="0.5" />
<rect x="418.7" y="246" width="5.9" height="56.4" fill="url(#wv)" stroke="#5a5a5a" stroke-width="0.8" />
<rect x="418.7" y="307.9" width="5.9" height="54.7" fill="url(#wv)" stroke="#5a5a5a" stroke-width="0.8" />
<rect x="435.7" y="246" width="5.8" height="6.3" fill="#d6d6d6" stroke="#5a5a5a" stroke-width="0.5" />
<rect x="435.7" y="296" width="5.8" height="6.4" fill="#d6d6d6" stroke="#5a5a5a" stroke-width="0.5" />
<rect x="435.7" y="356.5" width="5.8" height="6.1" fill="#d6d6d6" stroke="#5a5a5a" stroke-width="0.5" />
<rect x="429.8" y="246" width="5.9" height="56.4" fill="url(#wv)" stroke="#5a5a5a" stroke-width="0.8" />
<rect x="429.8" y="307.9" width="5.9" height="54.7" fill="url(#wv)" stroke="#5a5a5a" stroke-width="0.8" />
<rect x="447.4" y="246" width="5.3" height="6.3" fill="#d6d6d6" stroke="#5a5a5a" stroke-width="0.5" />
<rect x="447.4" y="296" width="5.3" height="6.4" fill="#d6d6d6" stroke="#5a5a5a" stroke-width="0.5" />
<rect x="447.4" y="356.5" width="5.3" height="6.1" fill="#d6d6d6" stroke="#5a5a5a" stroke-width="0.5" />
<rect x="441.5" y="246" width="5.9" height="56.4" fill="url(#wv)" stroke="#5a5a5a" stroke-width="0.8" />
<rect x="441.5" y="307.9" width="5.9" height="54.7" fill="url(#wv)" stroke="#5a5a5a" stroke-width="0.8" />
<rect x="458.6" y="246" width="5.8" height="6.3" fill="#d6d6d6" stroke="#5a5a5a" stroke-width="0.5" />
<rect x="458.6" y="296" width="5.8" height="6.4" fill="#d6d6d6" stroke="#5a5a5a" stroke-width="0.5" />
<rect x="458.6" y="356.5" width="5.8" height="6.1" fill="#d6d6d6" stroke="#5a5a5a" stroke-width="0.5" />
<rect x="452.7" y="246" width="5.9" height="56.4" fill="url(#wv)" stroke="#5a5a5a" stroke-width="0.8" />
<rect x="452.7" y="307.9" width="5.9" height="54.7" fill="url(#wv)" stroke="#5a5a5a" stroke-width="0.8" />
<rect x="470.3" y="246" width="5.2" height="6.3" fill="#d6d6d6" stroke="#5a5a5a" stroke-width="0.5" />
<rect x="470.3" y="296" width="5.2" height="6.4" fill="#d6d6d6" stroke="#5a5a5a" stroke-width="0.5" />
<rect x="470.3" y="356.5" width="5.2" height="6.1" fill="#d6d6d6" stroke="#5a5a5a" stroke-width="0.5" />
<rect x="464.4" y="246" width="5.9" height="56.4" fill="url(#wv)" stroke="#5a5a5a" stroke-width="0.8" />
<rect x="464.4" y="307.9" width="5.9" height="54.7" fill="url(#wv)" stroke="#5a5a5a" stroke-width="0.8" />
<rect x="481.4" y="246" width="5.2" height="6.3" fill="#d6d6d6" stroke="#5a5a5a" stroke-width="0.5" />
<rect x="481.4" y="296" width="5.2" height="6.4" fill="#d6d6d6" stroke="#5a5a5a" stroke-width="0.5" />
<rect x="481.4" y="356.5" width="5.2" height="6.1" fill="#d6d6d6" stroke="#5a5a5a" stroke-width="0.5" />
<rect x="475.5" y="246" width="5.9" height="56.4" fill="url(#wv)" stroke="#5a5a5a" stroke-width="0.8" />
<rect x="475.5" y="307.9" width="5.9" height="54.7" fill="url(#wv)" stroke="#5a5a5a" stroke-width="0.8" />
<rect x="492.5" y="246" width="4.8" height="6.3" fill="#d6d6d6" stroke="#5a5a5a" stroke-width="0.5" />
<rect x="492.5" y="296" width="4.8" height="6.4" fill="#d6d6d6" stroke="#5a5a5a" stroke-width="0.5" />
<rect x="492.5" y="356.5" width="4.8" height="6.1" fill="#d6d6d6" stroke="#5a5a5a" stroke-width="0.5" />
<rect x="486.6" y="246" width="5.9" height="56.4" fill="url(#wv)" stroke="#5a5a5a" stroke-width="0.8" />
<rect x="486.6" y="307.9" width="5.9" height="54.7" fill="url(#wv)" stroke="#5a5a5a" stroke-width="0.8" />
<rect x="503.2" y="246" width="3.8" height="6.3" fill="#d6d6d6" stroke="#5a5a5a" stroke-width="0.5" />
<rect x="503.2" y="296" width="3.8" height="6.4" fill="#d6d6d6" stroke="#5a5a5a" stroke-width="0.5" />
<rect x="503.2" y="356.5" width="3.8" height="6.1" fill="#d6d6d6" stroke="#5a5a5a" stroke-width="0.5" />
<rect x="497.3" y="246" width="5.9" height="56.4" fill="url(#wv)" stroke="#5a5a5a" stroke-width="0.8" />
<rect x="497.3" y="307.9" width="5.9" height="54.7" fill="url(#wv)" stroke="#5a5a5a" stroke-width="0.8" />
<rect x="512.9" y="246" width="4.1" height="6.3" fill="#d6d6d6" stroke="#5a5a5a" stroke-width="0.5" />
<rect x="512.9" y="296" width="4.1" height="6.4" fill="#d6d6d6" stroke="#5a5a5a" stroke-width="0.5" />
<rect x="512.9" y="356.5" width="4.1" height="6.1" fill="#d6d6d6" stroke="#5a5a5a" stroke-width="0.5" />
<rect x="507" y="246" width="5.9" height="56.4" fill="url(#wv)" stroke="#5a5a5a" stroke-width="0.8" />
<rect x="507" y="307.9" width="5.9" height="54.7" fill="url(#wv)" stroke="#5a5a5a" stroke-width="0.8" />
<rect x="522.9" y="246" width="4.1" height="6.3" fill="#d6d6d6" stroke="#5a5a5a" stroke-width="0.5" />
<rect x="522.9" y="296" width="4.1" height="6.4" fill="#d6d6d6" stroke="#5a5a5a" stroke-width="0.5" />
<rect x="522.9" y="356.5" width="4.1" height="6.1" fill="#d6d6d6" stroke="#5a5a5a" stroke-width="0.5" />
<rect x="517" y="246" width="5.9" height="56.4" fill="url(#wv)" stroke="#5a5a5a" stroke-width="0.8" />
<rect x="517" y="307.9" width="5.9" height="54.7" fill="url(#wv)" stroke="#5a5a5a" stroke-width="0.8" />
<rect x="532.9" y="246" width="4" height="6.3" fill="#d6d6d6" stroke="#5a5a5a" stroke-width="0.5" />
<rect x="532.9" y="296" width="4" height="6.4" fill="#d6d6d6" stroke="#5a5a5a" stroke-width="0.5" />
<rect x="532.9" y="356.5" width="4" height="6.1" fill="#d6d6d6" stroke="#5a5a5a" stroke-width="0.5" />
<rect x="527" y="246" width="5.9" height="56.4" fill="url(#wv)" stroke="#5a5a5a" stroke-width="0.8" />
<rect x="527" y="307.9" width="5.9" height="54.7" fill="url(#wv)" stroke="#5a5a5a" stroke-width="0.8" />
<rect x="542.8" y="246" width="4.1" height="6.3" fill="#d6d6d6" stroke="#5a5a5a" stroke-width="0.5" />
<rect x="542.8" y="296" width="4.1" height="6.4" fill="#d6d6d6" stroke="#5a5a5a" stroke-width="0.5" />
<rect x="542.8" y="356.5" width="4.1" height="6.1" fill="#d6d6d6" stroke="#5a5a5a" stroke-width="0.5" />
<rect x="536.9" y="246" width="5.9" height="56.4" fill="url(#wv)" stroke="#5a5a5a" stroke-width="0.8" />
<rect x="536.9" y="307.9" width="5.9" height="54.7" fill="url(#wv)" stroke="#5a5a5a" stroke-width="0.8" />
<rect x="552.8" y="246" width="3.5" height="6.3" fill="#d6d6d6" stroke="#5a5a5a" stroke-width="0.5" />
<rect x="552.8" y="296" width="3.5" height="6.4" fill="#d6d6d6" stroke="#5a5a5a" stroke-width="0.5" />
<rect x="552.8" y="356.5" width="3.5" height="6.1" fill="#d6d6d6" stroke="#5a5a5a" stroke-width="0.5" />
<rect x="546.9" y="246" width="5.9" height="56.4" fill="url(#wv)" stroke="#5a5a5a" stroke-width="0.8" />
<rect x="546.9" y="307.9" width="5.9" height="54.7" fill="url(#wv)" stroke="#5a5a5a" stroke-width="0.8" />
<rect x="562.2" y="246" width="4" height="6.3" fill="#d6d6d6" stroke="#5a5a5a" stroke-width="0.5" />
<rect x="562.2" y="296" width="4" height="6.4" fill="#d6d6d6" stroke="#5a5a5a" stroke-width="0.5" />
<rect x="562.2" y="356.5" width="4" height="6.1" fill="#d6d6d6" stroke="#5a5a5a" stroke-width="0.5" />
<rect x="556.3" y="246" width="5.9" height="56.4" fill="url(#wv)" stroke="#5a5a5a" stroke-width="0.8" />
<rect x="556.3" y="307.9" width="5.9" height="54.7" fill="url(#wv)" stroke="#5a5a5a" stroke-width="0.8" />
<rect x="572.1" y="246" width="4.1" height="6.3" fill="#d6d6d6" stroke="#5a5a5a" stroke-width="0.5" />
<rect x="572.1" y="296" width="4.1" height="6.4" fill="#d6d6d6" stroke="#5a5a5a" stroke-width="0.5" />
<rect x="572.1" y="356.5" width="4.1" height="6.1" fill="#d6d6d6" stroke="#5a5a5a" stroke-width="0.5" />
<rect x="566.2" y="246" width="5.9" height="56.4" fill="url(#wv)" stroke="#5a5a5a" stroke-width="0.8" />
<rect x="566.2" y="307.9" width="5.9" height="54.7" fill="url(#wv)" stroke="#5a5a5a" stroke-width="0.8" />
<rect x="582.1" y="246" width="4" height="6.3" fill="#d6d6d6" stroke="#5a5a5a" stroke-width="0.5" />
<rect x="582.1" y="296" width="4" height="6.4" fill="#d6d6d6" stroke="#5a5a5a" stroke-width="0.5" />
<rect x="582.1" y="356.5" width="4" height="6.1" fill="#d6d6d6" stroke="#5a5a5a" stroke-width="0.5" />
<rect x="576.2" y="246" width="5.9" height="56.4" fill="url(#wv)" stroke="#5a5a5a" stroke-width="0.8" />
<rect x="576.2" y="307.9" width="5.9" height="54.7" fill="url(#wv)" stroke="#5a5a5a" stroke-width="0.8" />
<rect x="592" y="246" width="4.1" height="6.3" fill="#d6d6d6" stroke="#5a5a5a" stroke-width="0.5" />
<rect x="592" y="296" width="4.1" height="6.4" fill="#d6d6d6" stroke="#5a5a5a" stroke-width="0.5" />
<rect x="592" y="356.5" width="4.1" height="6.1" fill="#d6d6d6" stroke="#5a5a5a" stroke-width="0.5" />
<rect x="586.1" y="246" width="5.9" height="56.4" fill="url(#wv)" stroke="#5a5a5a" stroke-width="0.8" />
<rect x="586.1" y="307.9" width="5.9" height="54.7" fill="url(#wv)" stroke="#5a5a5a" stroke-width="0.8" />
<rect x="602" y="246" width="4.1" height="6.3" fill="#d6d6d6" stroke="#5a5a5a" stroke-width="0.5" />
<rect x="602" y="296" width="4.1" height="6.4" fill="#d6d6d6" stroke="#5a5a5a" stroke-width="0.5" />
<rect x="602" y="356.5" width="4.1" height="6.1" fill="#d6d6d6" stroke="#5a5a5a" stroke-width="0.5" />
<rect x="596.1" y="246" width="5.9" height="56.4" fill="url(#wv)" stroke="#5a5a5a" stroke-width="0.8" />
<rect x="596.1" y="307.9" width="5.9" height="54.7" fill="url(#wv)" stroke="#5a5a5a" stroke-width="0.8" />
<rect x="612" y="246" width="3.4" height="6.3" fill="#d6d6d6" stroke="#5a5a5a" stroke-width="0.5" />
<rect x="612" y="296" width="3.4" height="6.4" fill="#d6d6d6" stroke="#5a5a5a" stroke-width="0.5" />
<rect x="612" y="356.5" width="3.4" height="6.1" fill="#d6d6d6" stroke="#5a5a5a" stroke-width="0.5" />
<rect x="606.1" y="246" width="5.9" height="56.4" fill="url(#wv)" stroke="#5a5a5a" stroke-width="0.8" />
<rect x="606.1" y="307.9" width="5.9" height="54.7" fill="url(#wv)" stroke="#5a5a5a" stroke-width="0.8" />
<rect x="621.3" y="246" width="4" height="6.3" fill="#d6d6d6" stroke="#5a5a5a" stroke-width="0.5" />
<rect x="621.3" y="296" width="4" height="6.4" fill="#d6d6d6" stroke="#5a5a5a" stroke-width="0.5" />
<rect x="621.3" y="356.5" width="4" height="6.1" fill="#d6d6d6" stroke="#5a5a5a" stroke-width="0.5" />
<rect x="615.4" y="246" width="5.9" height="56.4" fill="url(#wv)" stroke="#5a5a5a" stroke-width="0.8" />
<rect x="615.4" y="307.9" width="5.9" height="54.7" fill="url(#wv)" stroke="#5a5a5a" stroke-width="0.8" />
<rect x="631.2" y="246" width="4" height="6.3" fill="#d6d6d6" stroke="#5a5a5a" stroke-width="0.5" />
<rect x="631.2" y="296" width="4" height="6.4" fill="#d6d6d6" stroke="#5a5a5a" stroke-width="0.5" />
<rect x="631.2" y="356.5" width="4" height="6.1" fill="#d6d6d6" stroke="#5a5a5a" stroke-width="0.5" />
<rect x="625.3" y="246" width="5.9" height="56.4" fill="url(#wv)" stroke="#5a5a5a" stroke-width="0.8" />
<rect x="625.3" y="307.9" width="5.9" height="54.7" fill="url(#wv)" stroke="#5a5a5a" stroke-width="0.8" />
<rect x="641.1" y="246" width="2.9" height="6.3" fill="#d6d6d6" stroke="#5a5a5a" stroke-width="0.5" />
<rect x="641.1" y="296" width="2.9" height="6.4" fill="#d6d6d6" stroke="#5a5a5a" stroke-width="0.5" />
<rect x="641.1" y="356.5" width="2.9" height="6.1" fill="#d6d6d6" stroke="#5a5a5a" stroke-width="0.5" />
<rect x="635.2" y="246" width="5.9" height="56.4" fill="url(#wv)" stroke="#5a5a5a" stroke-width="0.8" />
<rect x="635.2" y="307.9" width="5.9" height="54.7" fill="url(#wv)" stroke="#5a5a5a" stroke-width="0.8" />
<rect x="649.9" y="246" width="4.1" height="6.3" fill="#d6d6d6" stroke="#5a5a5a" stroke-width="0.5" />
<rect x="649.9" y="296" width="4.1" height="6.4" fill="#d6d6d6" stroke="#5a5a5a" stroke-width="0.5" />
<rect x="649.9" y="356.5" width="4.1" height="6.1" fill="#d6d6d6" stroke="#5a5a5a" stroke-width="0.5" />
<rect x="644" y="246" width="5.9" height="56.4" fill="url(#wv)" stroke="#5a5a5a" stroke-width="0.8" />
<rect x="644" y="307.9" width="5.9" height="54.7" fill="url(#wv)" stroke="#5a5a5a" stroke-width="0.8" />
<rect x="659.9" y="246" width="2.9" height="6.3" fill="#d6d6d6" stroke="#5a5a5a" stroke-width="0.5" />
<rect x="659.9" y="296" width="2.9" height="6.4" fill="#d6d6d6" stroke="#5a5a5a" stroke-width="0.5" />
<rect x="659.9" y="356.5" width="2.9" height="6.1" fill="#d6d6d6" stroke="#5a5a5a" stroke-width="0.5" />
<rect x="654" y="246" width="5.9" height="56.4" fill="url(#wv)" stroke="#5a5a5a" stroke-width="0.8" />
<rect x="654" y="307.9" width="5.9" height="54.7" fill="url(#wv)" stroke="#5a5a5a" stroke-width="0.8" />
<rect x="668.7" y="246" width="4" height="6.3" fill="#d6d6d6" stroke="#5a5a5a" stroke-width="0.5" />
<rect x="668.7" y="296" width="4" height="6.4" fill="#d6d6d6" stroke="#5a5a5a" stroke-width="0.5" />
<rect x="668.7" y="356.5" width="4" height="6.1" fill="#d6d6d6" stroke="#5a5a5a" stroke-width="0.5" />
<rect x="662.8" y="246" width="5.9" height="56.4" fill="url(#wv)" stroke="#5a5a5a" stroke-width="0.8" />
<rect x="662.8" y="307.9" width="5.9" height="54.7" fill="url(#wv)" stroke="#5a5a5a" stroke-width="0.8" />
<rect x="678.6" y="246" width="3.5" height="6.3" fill="#d6d6d6" stroke="#5a5a5a" stroke-width="0.5" />
<rect x="678.6" y="296" width="3.5" height="6.4" fill="#d6d6d6" stroke="#5a5a5a" stroke-width="0.5" />
<rect x="678.6" y="356.5" width="3.5" height="6.1" fill="#d6d6d6" stroke="#5a5a5a" stroke-width="0.5" />
<rect x="672.7" y="246" width="5.9" height="56.4" fill="url(#wv)" stroke="#5a5a5a" stroke-width="0.8" />
<rect x="672.7" y="307.9" width="5.9" height="54.7" fill="url(#wv)" stroke="#5a5a5a" stroke-width="0.8" />
<rect x="688" y="246" width="3.5" height="6.3" fill="#d6d6d6" stroke="#5a5a5a" stroke-width="0.5" />
<rect x="688" y="296" width="3.5" height="6.4" fill="#d6d6d6" stroke="#5a5a5a" stroke-width="0.5" />
<rect x="688" y="356.5" width="3.5" height="6.1" fill="#d6d6d6" stroke="#5a5a5a" stroke-width="0.5" />
<rect x="682.1" y="246" width="5.9" height="56.4" fill="url(#wv)" stroke="#5a5a5a" stroke-width="0.8" />
<rect x="682.1" y="307.9" width="5.9" height="54.7" fill="url(#wv)" stroke="#5a5a5a" stroke-width="0.8" />
<rect x="697.4" y="246" width="4.6" height="6.3" fill="#d6d6d6" stroke="#5a5a5a" stroke-width="0.5" />
<rect x="697.4" y="296" width="4.6" height="6.4" fill="#d6d6d6" stroke="#5a5a5a" stroke-width="0.5" />
<rect x="697.4" y="356.5" width="4.6" height="6.1" fill="#d6d6d6" stroke="#5a5a5a" stroke-width="0.5" />
<rect x="691.5" y="246" width="5.9" height="56.4" fill="url(#wv)" stroke="#5a5a5a" stroke-width="0.8" />
<rect x="691.5" y="307.9" width="5.9" height="54.7" fill="url(#wv)" stroke="#5a5a5a" stroke-width="0.8" />
<rect x="707.9" y="246" width="5.3" height="6.3" fill="#d6d6d6" stroke="#5a5a5a" stroke-width="0.5" />
<rect x="707.9" y="296" width="5.3" height="6.4" fill="#d6d6d6" stroke="#5a5a5a" stroke-width="0.5" />
<rect x="707.9" y="356.5" width="5.3" height="6.1" fill="#d6d6d6" stroke="#5a5a5a" stroke-width="0.5" />
<rect x="702" y="246" width="5.9" height="56.4" fill="url(#wv)" stroke="#5a5a5a" stroke-width="0.8" />
<rect x="702" y="307.9" width="5.9" height="54.7" fill="url(#wv)" stroke="#5a5a5a" stroke-width="0.8" />
<rect x="719.1" y="246" width="5.8" height="6.3" fill="#d6d6d6" stroke="#5a5a5a" stroke-width="0.5" />
<rect x="719.1" y="296" width="5.8" height="6.4" fill="#d6d6d6" stroke="#5a5a5a" stroke-width="0.5" />
<rect x="719.1" y="356.5" width="5.8" height="6.1" fill="#d6d6d6" stroke="#5a5a5a" stroke-width="0.5" />
<rect x="713.2" y="246" width="5.9" height="56.4" fill="url(#wv)" stroke="#5a5a5a" stroke-width="0.8" />
<rect x="713.2" y="307.9" width="5.9" height="54.7" fill="url(#wv)" stroke="#5a5a5a" stroke-width="0.8" />
<rect x="730.8" y="246" width="5.5" height="6.3" fill="#d6d6d6" stroke="#5a5a5a" stroke-width="0.5" />
<rect x="730.8" y="296" width="5.5" height="6.4" fill="#d6d6d6" stroke="#5a5a5a" stroke-width="0.5" />
<rect x="730.8" y="356.5" width="5.5" height="6.1" fill="#d6d6d6" stroke="#5a5a5a" stroke-width="0.5" />
<rect x="724.9" y="246" width="5.9" height="56.4" fill="url(#wv)" stroke="#5a5a5a" stroke-width="0.8" />
<rect x="724.9" y="307.9" width="5.9" height="54.7" fill="url(#wv)" stroke="#5a5a5a" stroke-width="0.8" />
<rect x="742.2" y="246" width="5.4" height="6.3" fill="#d6d6d6" stroke="#5a5a5a" stroke-width="0.5" />
<rect x="742.2" y="296" width="5.4" height="6.4" fill="#d6d6d6" stroke="#5a5a5a" stroke-width="0.5" />
<rect x="742.2" y="356.5" width="5.4" height="6.1" fill="#d6d6d6" stroke="#5a5a5a" stroke-width="0.5" />
<rect x="736.3" y="246" width="5.9" height="56.4" fill="url(#wv)" stroke="#5a5a5a" stroke-width="0.8" />
<rect x="736.3" y="307.9" width="5.9" height="54.7" fill="url(#wv)" stroke="#5a5a5a" stroke-width="0.8" />
<rect x="753.5" y="246" width="5.5" height="6.3" fill="#d6d6d6" stroke="#5a5a5a" stroke-width="0.5" />
<rect x="753.5" y="296" width="5.5" height="6.4" fill="#d6d6d6" stroke="#5a5a5a" stroke-width="0.5" />
<rect x="753.5" y="356.5" width="5.5" height="6.1" fill="#d6d6d6" stroke="#5a5a5a" stroke-width="0.5" />
<rect x="747.6" y="246" width="5.9" height="56.4" fill="url(#wv)" stroke="#5a5a5a" stroke-width="0.8" />
<rect x="747.6" y="307.9" width="5.9" height="54.7" fill="url(#wv)" stroke="#5a5a5a" stroke-width="0.8" />
<rect x="764.9" y="246" width="5.4" height="6.3" fill="#d6d6d6" stroke="#5a5a5a" stroke-width="0.5" />
<rect x="764.9" y="296" width="5.4" height="6.4" fill="#d6d6d6" stroke="#5a5a5a" stroke-width="0.5" />
<rect x="764.9" y="356.5" width="5.4" height="6.1" fill="#d6d6d6" stroke="#5a5a5a" stroke-width="0.5" />
<rect x="759" y="246" width="5.9" height="56.4" fill="url(#wv)" stroke="#5a5a5a" stroke-width="0.8" />
<rect x="759" y="307.9" width="5.9" height="54.7" fill="url(#wv)" stroke="#5a5a5a" stroke-width="0.8" />
<rect x="776.2" y="246" width="5.4" height="6.3" fill="#d6d6d6" stroke="#5a5a5a" stroke-width="0.5" />
<rect x="776.2" y="296" width="5.4" height="6.4" fill="#d6d6d6" stroke="#5a5a5a" stroke-width="0.5" />
<rect x="776.2" y="356.5" width="5.4" height="6.1" fill="#d6d6d6" stroke="#5a5a5a" stroke-width="0.5" />
<rect x="770.3" y="246" width="5.9" height="56.4" fill="url(#wv)" stroke="#5a5a5a" stroke-width="0.8" />
<rect x="770.3" y="307.9" width="5.9" height="54.7" fill="url(#wv)" stroke="#5a5a5a" stroke-width="0.8" />
<rect x="787.5" y="246" width="5.5" height="6.3" fill="#d6d6d6" stroke="#5a5a5a" stroke-width="0.5" />
<rect x="787.5" y="296" width="5.5" height="6.4" fill="#d6d6d6" stroke="#5a5a5a" stroke-width="0.5" />
<rect x="787.5" y="356.5" width="5.5" height="6.1" fill="#d6d6d6" stroke="#5a5a5a" stroke-width="0.5" />
<rect x="781.6" y="246" width="5.9" height="56.4" fill="url(#wv)" stroke="#5a5a5a" stroke-width="0.8" />
<rect x="781.6" y="307.9" width="5.9" height="54.7" fill="url(#wv)" stroke="#5a5a5a" stroke-width="0.8" />
<rect x="798.9" y="246" width="5.4" height="6.3" fill="#d6d6d6" stroke="#5a5a5a" stroke-width="0.5" />
<rect x="798.9" y="296" width="5.4" height="6.4" fill="#d6d6d6" stroke="#5a5a5a" stroke-width="0.5" />
<rect x="798.9" y="356.5" width="5.4" height="6.1" fill="#d6d6d6" stroke="#5a5a5a" stroke-width="0.5" />
<rect x="793" y="246" width="5.9" height="56.4" fill="url(#wv)" stroke="#5a5a5a" stroke-width="0.8" />
<rect x="793" y="307.9" width="5.9" height="54.7" fill="url(#wv)" stroke="#5a5a5a" stroke-width="0.8" />
<rect x="804.3" y="246" width="6.3" height="56.4" fill="url(#wv)" stroke="#5a5a5a" stroke-width="0.8" />
<rect x="804.3" y="307.9" width="6.3" height="54.7" fill="url(#wv)" stroke="#5a5a5a" stroke-width="0.8" />
<rect x="385.6" y="368.2" width="61.7" height="4.8" fill="url(#wh)" stroke="#5a5a5a" stroke-width="0.8" />
<rect x="385.6" y="368.2" width="5" height="265.3" fill="url(#wv)" stroke="#5a5a5a" stroke-width="0.8" />
<rect x="447.3" y="368.2" width="5.3" height="265.3" fill="url(#wv)" stroke="#5a5a5a" stroke-width="0.8" />
<rect x="390.6" y="374.4" width="56.7" height="4.6" fill="#fff" stroke="#5a5a5a" stroke-width="0.7" />
<rect x="390.6" y="374.4" width="6.8" height="4.6" fill="#d6d6d6" stroke="#5a5a5a" stroke-width="0.5" />
<rect x="441" y="374.4" width="6.3" height="4.6" fill="#d6d6d6" stroke="#5a5a5a" stroke-width="0.5" />
<rect x="390.6" y="384.8" width="56.7" height="4.6" fill="#fff" stroke="#5a5a5a" stroke-width="0.7" />
<rect x="390.6" y="384.8" width="6.8" height="4.6" fill="#d6d6d6" stroke="#5a5a5a" stroke-width="0.5" />
<rect x="441" y="384.8" width="6.3" height="4.6" fill="#d6d6d6" stroke="#5a5a5a" stroke-width="0.5" />
<rect x="390.6" y="396.5" width="56.7" height="4.6" fill="#fff" stroke="#5a5a5a" stroke-width="0.7" />
<rect x="390.6" y="396.5" width="6.8" height="4.6" fill="#d6d6d6" stroke="#5a5a5a" stroke-width="0.5" />
<rect x="441" y="396.5" width="6.3" height="4.6" fill="#d6d6d6" stroke="#5a5a5a" stroke-width="0.5" />
<rect x="390.6" y="407.05" width="56.7" height="3.9" fill="#fff" stroke="#5a5a5a" stroke-width="0.7" />
<rect x="390.6" y="407.05" width="6.8" height="3.9" fill="#d6d6d6" stroke="#5a5a5a" stroke-width="0.5" />
<rect x="441" y="407.05" width="6.3" height="3.9" fill="#d6d6d6" stroke="#5a5a5a" stroke-width="0.5" />
<rect x="390.6" y="417.25" width="56.7" height="3.9" fill="#fff" stroke="#5a5a5a" stroke-width="0.7" />
<rect x="390.6" y="417.25" width="6.8" height="3.9" fill="#d6d6d6" stroke="#5a5a5a" stroke-width="0.5" />
<rect x="441" y="417.25" width="6.3" height="3.9" fill="#d6d6d6" stroke="#5a5a5a" stroke-width="0.5" />
<rect x="390.6" y="427.15" width="56.7" height="3.9" fill="#fff" stroke="#5a5a5a" stroke-width="0.7" />
<rect x="390.6" y="427.15" width="6.8" height="3.9" fill="#d6d6d6" stroke="#5a5a5a" stroke-width="0.5" />
<rect x="441" y="427.15" width="6.3" height="3.9" fill="#d6d6d6" stroke="#5a5a5a" stroke-width="0.5" />
<rect x="390.6" y="436.95" width="56.7" height="3.9" fill="#fff" stroke="#5a5a5a" stroke-width="0.7" />
<rect x="390.6" y="436.95" width="6.8" height="3.9" fill="#d6d6d6" stroke="#5a5a5a" stroke-width="0.5" />
<rect x="441" y="436.95" width="6.3" height="3.9" fill="#d6d6d6" stroke="#5a5a5a" stroke-width="0.5" />
<rect x="390.6" y="446.45" width="56.7" height="3.9" fill="#fff" stroke="#5a5a5a" stroke-width="0.7" />
<rect x="390.6" y="446.45" width="6.8" height="3.9" fill="#d6d6d6" stroke="#5a5a5a" stroke-width="0.5" />
<rect x="441" y="446.45" width="6.3" height="3.9" fill="#d6d6d6" stroke="#5a5a5a" stroke-width="0.5" />
<rect x="390.6" y="456.05" width="56.7" height="3.9" fill="#fff" stroke="#5a5a5a" stroke-width="0.7" />
<rect x="390.6" y="456.05" width="6.8" height="3.9" fill="#d6d6d6" stroke="#5a5a5a" stroke-width="0.5" />
<rect x="441" y="456.05" width="6.3" height="3.9" fill="#d6d6d6" stroke="#5a5a5a" stroke-width="0.5" />
<rect x="390.6" y="465.75" width="56.7" height="3.9" fill="#fff" stroke="#5a5a5a" stroke-width="0.7" />
<rect x="390.6" y="465.75" width="6.8" height="3.9" fill="#d6d6d6" stroke="#5a5a5a" stroke-width="0.5" />
<rect x="441" y="465.75" width="6.3" height="3.9" fill="#d6d6d6" stroke="#5a5a5a" stroke-width="0.5" />
<rect x="390.6" y="475.15" width="56.7" height="3.9" fill="#fff" stroke="#5a5a5a" stroke-width="0.7" />
<rect x="390.6" y="475.15" width="6.8" height="3.9" fill="#d6d6d6" stroke="#5a5a5a" stroke-width="0.5" />
<rect x="441" y="475.15" width="6.3" height="3.9" fill="#d6d6d6" stroke="#5a5a5a" stroke-width="0.5" />
<rect x="390.6" y="485.05" width="56.7" height="3.9" fill="#fff" stroke="#5a5a5a" stroke-width="0.7" />
<rect x="390.6" y="485.05" width="6.8" height="3.9" fill="#d6d6d6" stroke="#5a5a5a" stroke-width="0.5" />
<rect x="441" y="485.05" width="6.3" height="3.9" fill="#d6d6d6" stroke="#5a5a5a" stroke-width="0.5" />
<rect x="390.6" y="494.45" width="56.7" height="3.9" fill="#fff" stroke="#5a5a5a" stroke-width="0.7" />
<rect x="390.6" y="494.45" width="6.8" height="3.9" fill="#d6d6d6" stroke="#5a5a5a" stroke-width="0.5" />
<rect x="441" y="494.45" width="6.3" height="3.9" fill="#d6d6d6" stroke="#5a5a5a" stroke-width="0.5" />
<rect x="390.6" y="503.65" width="56.7" height="3.9" fill="#fff" stroke="#5a5a5a" stroke-width="0.7" />
<rect x="390.6" y="503.65" width="6.8" height="3.9" fill="#d6d6d6" stroke="#5a5a5a" stroke-width="0.5" />
<rect x="441" y="503.65" width="6.3" height="3.9" fill="#d6d6d6" stroke="#5a5a5a" stroke-width="0.5" />
<rect x="390.6" y="513.35" width="56.7" height="3.9" fill="#fff" stroke="#5a5a5a" stroke-width="0.7" />
<rect x="390.6" y="513.35" width="6.8" height="3.9" fill="#d6d6d6" stroke="#5a5a5a" stroke-width="0.5" />
<rect x="441" y="513.35" width="6.3" height="3.9" fill="#d6d6d6" stroke="#5a5a5a" stroke-width="0.5" />
<rect x="390.6" y="522.85" width="56.7" height="3.9" fill="#fff" stroke="#5a5a5a" stroke-width="0.7" />
<rect x="390.6" y="522.85" width="6.8" height="3.9" fill="#d6d6d6" stroke="#5a5a5a" stroke-width="0.5" />
<rect x="441" y="522.85" width="6.3" height="3.9" fill="#d6d6d6" stroke="#5a5a5a" stroke-width="0.5" />
<rect x="390.6" y="532.25" width="56.7" height="3.9" fill="#fff" stroke="#5a5a5a" stroke-width="0.7" />
<rect x="390.6" y="532.25" width="6.8" height="3.9" fill="#d6d6d6" stroke="#5a5a5a" stroke-width="0.5" />
<rect x="441" y="532.25" width="6.3" height="3.9" fill="#d6d6d6" stroke="#5a5a5a" stroke-width="0.5" />
<rect x="390.6" y="541.75" width="56.7" height="3.9" fill="#fff" stroke="#5a5a5a" stroke-width="0.7" />
<rect x="390.6" y="541.75" width="6.8" height="3.9" fill="#d6d6d6" stroke="#5a5a5a" stroke-width="0.5" />
<rect x="441" y="541.75" width="6.3" height="3.9" fill="#d6d6d6" stroke="#5a5a5a" stroke-width="0.5" />
<rect x="390.6" y="551.25" width="56.7" height="3.9" fill="#fff" stroke="#5a5a5a" stroke-width="0.7" />
<rect x="390.6" y="551.25" width="6.8" height="3.9" fill="#d6d6d6" stroke="#5a5a5a" stroke-width="0.5" />
<rect x="441" y="551.25" width="6.3" height="3.9" fill="#d6d6d6" stroke="#5a5a5a" stroke-width="0.5" />
<rect x="390.6" y="560.95" width="56.7" height="3.9" fill="#fff" stroke="#5a5a5a" stroke-width="0.7" />
<rect x="390.6" y="560.95" width="6.8" height="3.9" fill="#d6d6d6" stroke="#5a5a5a" stroke-width="0.5" />
<rect x="441" y="560.95" width="6.3" height="3.9" fill="#d6d6d6" stroke="#5a5a5a" stroke-width="0.5" />
<rect x="390.6" y="570.15" width="56.7" height="3.9" fill="#fff" stroke="#5a5a5a" stroke-width="0.7" />
<rect x="390.6" y="570.15" width="6.8" height="3.9" fill="#d6d6d6" stroke="#5a5a5a" stroke-width="0.5" />
<rect x="441" y="570.15" width="6.3" height="3.9" fill="#d6d6d6" stroke="#5a5a5a" stroke-width="0.5" />
<rect x="390.6" y="579.65" width="56.7" height="3.9" fill="#fff" stroke="#5a5a5a" stroke-width="0.7" />
<rect x="390.6" y="579.65" width="6.8" height="3.9" fill="#d6d6d6" stroke="#5a5a5a" stroke-width="0.5" />
<rect x="441" y="579.65" width="6.3" height="3.9" fill="#d6d6d6" stroke="#5a5a5a" stroke-width="0.5" />
<rect x="390.6" y="590.15" width="56.7" height="3.9" fill="#fff" stroke="#5a5a5a" stroke-width="0.7" />
<rect x="390.6" y="590.15" width="6.8" height="3.9" fill="#d6d6d6" stroke="#5a5a5a" stroke-width="0.5" />
<rect x="441" y="590.15" width="6.3" height="3.9" fill="#d6d6d6" stroke="#5a5a5a" stroke-width="0.5" />
<rect x="390.6" y="600.35" width="56.7" height="3.9" fill="#fff" stroke="#5a5a5a" stroke-width="0.7" />
<rect x="390.6" y="600.35" width="6.8" height="3.9" fill="#d6d6d6" stroke="#5a5a5a" stroke-width="0.5" />
<rect x="441" y="600.35" width="6.3" height="3.9" fill="#d6d6d6" stroke="#5a5a5a" stroke-width="0.5" />
<rect x="390.6" y="611.25" width="56.7" height="3.9" fill="#fff" stroke="#5a5a5a" stroke-width="0.7" />
<rect x="390.6" y="611.25" width="6.8" height="3.9" fill="#d6d6d6" stroke="#5a5a5a" stroke-width="0.5" />
<rect x="441" y="611.25" width="6.3" height="3.9" fill="#d6d6d6" stroke="#5a5a5a" stroke-width="0.5" />
<rect x="390.6" y="621.55" width="56.7" height="3.9" fill="#fff" stroke="#5a5a5a" stroke-width="0.7" />
<rect x="390.6" y="621.55" width="6.8" height="3.9" fill="#d6d6d6" stroke="#5a5a5a" stroke-width="0.5" />
<rect x="441" y="621.55" width="6.3" height="3.9" fill="#d6d6d6" stroke="#5a5a5a" stroke-width="0.5" />
<rect x="390.6" y="379" width="56.7" height="5.8" fill="url(#wh)" stroke="#5a5a5a" stroke-width="0.8" />
<rect x="390.6" y="389.4" width="56.7" height="7.1" fill="url(#wh)" stroke="#5a5a5a" stroke-width="0.8" />
<rect x="390.6" y="401.1" width="56.7" height="5.95" fill="url(#wh)" stroke="#5a5a5a" stroke-width="0.8" />
<rect x="390.6" y="410.95" width="56.7" height="6.3" fill="url(#wh)" stroke="#5a5a5a" stroke-width="0.8" />
<rect x="390.6" y="421.15" width="56.7" height="6" fill="url(#wh)" stroke="#5a5a5a" stroke-width="0.8" />
<rect x="390.6" y="431.05" width="56.7" height="5.9" fill="url(#wh)" stroke="#5a5a5a" stroke-width="0.8" />
<rect x="390.6" y="440.85" width="56.7" height="5.6" fill="url(#wh)" stroke="#5a5a5a" stroke-width="0.8" />
<rect x="390.6" y="450.35" width="56.7" height="5.7" fill="url(#wh)" stroke="#5a5a5a" stroke-width="0.8" />
<rect x="390.6" y="459.95" width="56.7" height="5.8" fill="url(#wh)" stroke="#5a5a5a" stroke-width="0.8" />
<rect x="390.6" y="469.65" width="56.7" height="5.5" fill="url(#wh)" stroke="#5a5a5a" stroke-width="0.8" />
<rect x="390.6" y="479.05" width="56.7" height="6" fill="url(#wh)" stroke="#5a5a5a" stroke-width="0.8" />
<rect x="390.6" y="488.95" width="56.7" height="5.5" fill="url(#wh)" stroke="#5a5a5a" stroke-width="0.8" />
<rect x="390.6" y="498.35" width="56.7" height="5.3" fill="url(#wh)" stroke="#5a5a5a" stroke-width="0.8" />
<rect x="390.6" y="507.55" width="56.7" height="5.8" fill="url(#wh)" stroke="#5a5a5a" stroke-width="0.8" />
<rect x="390.6" y="517.25" width="56.7" height="5.6" fill="url(#wh)" stroke="#5a5a5a" stroke-width="0.8" />
<rect x="390.6" y="526.75" width="56.7" height="5.5" fill="url(#wh)" stroke="#5a5a5a" stroke-width="0.8" />
<rect x="390.6" y="536.15" width="56.7" height="5.6" fill="url(#wh)" stroke="#5a5a5a" stroke-width="0.8" />
<rect x="390.6" y="545.65" width="56.7" height="5.6" fill="url(#wh)" stroke="#5a5a5a" stroke-width="0.8" />
<rect x="390.6" y="555.15" width="56.7" height="5.8" fill="url(#wh)" stroke="#5a5a5a" stroke-width="0.8" />
<rect x="390.6" y="564.85" width="56.7" height="5.3" fill="url(#wh)" stroke="#5a5a5a" stroke-width="0.8" />
<rect x="390.6" y="574.05" width="56.7" height="5.6" fill="url(#wh)" stroke="#5a5a5a" stroke-width="0.8" />
<rect x="390.6" y="583.55" width="56.7" height="6.6" fill="url(#wh)" stroke="#5a5a5a" stroke-width="0.8" />
<rect x="390.6" y="594.05" width="56.7" height="6.3" fill="url(#wh)" stroke="#5a5a5a" stroke-width="0.8" />
<rect x="390.6" y="604.25" width="56.7" height="7" fill="url(#wh)" stroke="#5a5a5a" stroke-width="0.8" />
<rect x="390.6" y="615.15" width="56.7" height="6.4" fill="url(#wh)" stroke="#5a5a5a" stroke-width="0.8" />
<rect x="390.6" y="625.45" width="56.7" height="8.05" fill="url(#wh)" stroke="#5a5a5a" stroke-width="0.8" />
<line x1="487.3" y1="252.6" x2="487.3" y2="295" stroke="#222" stroke-width="1.2" />
<line x1="493.6" y1="252.6" x2="493.6" y2="295" stroke="#222" stroke-width="1.2" />
<line x1="586.4" y1="252.6" x2="586.4" y2="295" stroke="#222" stroke-width="1.2" />
<line x1="593.1" y1="252.6" x2="593.1" y2="295" stroke="#222" stroke-width="1.2" />
<line x1="702.6" y1="252.6" x2="702.6" y2="295" stroke="#222" stroke-width="1.2" />
<line x1="709.2" y1="252.6" x2="709.2" y2="295" stroke="#222" stroke-width="1.2" />
<rect x="484.6" y="236.2" width="11.1" height="2.6" fill="#111" stroke="none" stroke-width="1" />
<rect x="584.6" y="236.2" width="11" height="2.6" fill="#111" stroke="none" stroke-width="1" />
<rect x="700.4" y="236.2" width="10.2" height="2.6" fill="#111" stroke="none" stroke-width="1" />
<line x1="745" y1="236" x2="745" y2="378" stroke="#888" stroke-width="1" />
<line x1="739.2" y1="235.2" x2="750.8" y2="246.8" stroke="#111" stroke-width="2.2" stroke-linecap="round"/>
<line x1="739.2" y1="362.7" x2="750.8" y2="374.3" stroke="#111" stroke-width="2.2" stroke-linecap="round"/>
<rect x="728.3" y="296.3" width="12" height="16" fill="#fdfdfd" stroke="none" stroke-width="1" />
<text x="0" y="0" font-family='"Liberation Sans", sans-serif' font-size="11.5" fill="#2a2a2a" text-anchor="middle" font-weight="normal" textLength="15" lengthAdjust="spacingAndGlyphs" stroke="#2a2a2a" stroke-width="0.22" transform="translate(738.2,304.3) rotate(-90)">34"</text>
<circle cx="484.3" cy="339.5" r="4.6" fill="#fdfdfd" stroke="#222" stroke-width="1.25"/>
<path d="M491.01,341.81 A7.1,7.1 0 0 1 489.66,344.16" fill="none" stroke="#222" stroke-width="1.1"/>
<path d="M485.65,346.47 A7.1,7.1 0 0 1 482.95,346.47" fill="none" stroke="#222" stroke-width="1.1"/>
<path d="M478.94,344.16 A7.1,7.1 0 0 1 477.59,341.81" fill="none" stroke="#222" stroke-width="1.1"/>
<path d="M477.59,337.19 A7.1,7.1 0 0 1 478.94,334.84" fill="none" stroke="#222" stroke-width="1.1"/>
<path d="M482.95,332.53 A7.1,7.1 0 0 1 485.65,332.53" fill="none" stroke="#222" stroke-width="1.1"/>
<path d="M489.66,334.84 A7.1,7.1 0 0 1 491.01,337.19" fill="none" stroke="#222" stroke-width="1.1"/>
<circle cx="711.2" cy="339.5" r="4.6" fill="#fdfdfd" stroke="#222" stroke-width="1.25"/>
<path d="M717.91,341.81 A7.1,7.1 0 0 1 716.56,344.16" fill="none" stroke="#222" stroke-width="1.1"/>
<path d="M712.55,346.47 A7.1,7.1 0 0 1 709.85,346.47" fill="none" stroke="#222" stroke-width="1.1"/>
<path d="M705.84,344.16 A7.1,7.1 0 0 1 704.49,341.81" fill="none" stroke="#222" stroke-width="1.1"/>
<path d="M704.49,337.19 A7.1,7.1 0 0 1 705.84,334.84" fill="none" stroke="#222" stroke-width="1.1"/>
<path d="M709.85,332.53 A7.1,7.1 0 0 1 712.55,332.53" fill="none" stroke="#222" stroke-width="1.1"/>
<path d="M716.56,334.84 A7.1,7.1 0 0 1 717.91,337.19" fill="none" stroke="#222" stroke-width="1.1"/>
<rect x="487.75" y="338.75" width="5.5" height="5.5" fill="#eee" stroke="#333" stroke-width="0.9" />
<line x1="487.75" y1="338.75" x2="493.25" y2="344.25" stroke="#333" stroke-width="0.7" />
<line x1="493.25" y1="338.75" x2="487.75" y2="344.25" stroke="#333" stroke-width="0.7" />
<rect x="701.75" y="338.75" width="5.5" height="5.5" fill="#eee" stroke="#333" stroke-width="0.9" />
<line x1="701.75" y1="338.75" x2="707.25" y2="344.25" stroke="#333" stroke-width="0.7" />
<line x1="707.25" y1="338.75" x2="701.75" y2="344.25" stroke="#333" stroke-width="0.7" />
<rect x="586.25" y="339.75" width="5.5" height="5.5" fill="#eee" stroke="#333" stroke-width="0.9" />
<line x1="586.25" y1="339.75" x2="591.75" y2="345.25" stroke="#333" stroke-width="0.7" />
<line x1="591.75" y1="339.75" x2="586.25" y2="345.25" stroke="#333" stroke-width="0.7" />
<rect x="424.25" y="411.25" width="5.5" height="5.5" fill="#eee" stroke="#333" stroke-width="0.9" />
<line x1="424.25" y1="411.25" x2="429.75" y2="416.75" stroke="#333" stroke-width="0.7" />
<line x1="429.75" y1="411.25" x2="424.25" y2="416.75" stroke="#333" stroke-width="0.7" />
<rect x="424.25" y="497.25" width="5.5" height="5.5" fill="#eee" stroke="#333" stroke-width="0.9" />
<line x1="424.25" y1="497.25" x2="429.75" y2="502.75" stroke="#333" stroke-width="0.7" />
<line x1="429.75" y1="497.25" x2="424.25" y2="502.75" stroke="#333" stroke-width="0.7" />
<rect x="424.25" y="583.75" width="5.5" height="5.5" fill="#eee" stroke="#333" stroke-width="0.9" />
<line x1="424.25" y1="583.75" x2="429.75" y2="589.25" stroke="#333" stroke-width="0.7" />
<line x1="429.75" y1="583.75" x2="424.25" y2="589.25" stroke="#333" stroke-width="0.7" />
<line x1="377" y1="396.3" x2="818" y2="396.3" stroke="#555" stroke-width="1.1" />
<line x1="810.6" y1="368" x2="810.6" y2="401" stroke="#666" stroke-width="1" />
<line x1="380.5" y1="400.3" x2="392.1" y2="388.7" stroke="#111" stroke-width="2.2" stroke-linecap="round"/>
<line x1="804.4" y1="402.5" x2="816" y2="390.9" stroke="#111" stroke-width="2.2" stroke-linecap="round"/>
<text x="598" y="388" font-family='"Liberation Sans", sans-serif' font-size="11" fill="#2a2a2a" text-anchor="middle" font-weight="normal" textLength="37" lengthAdjust="spacingAndGlyphs" stroke="#2a2a2a" stroke-width="0.22" >113 1/4"</text>
<line x1="465.8" y1="624.4" x2="465.8" y2="757" stroke="#555" stroke-width="1" />
<line x1="459" y1="633.4" x2="474" y2="633.4" stroke="#555" stroke-width="1" />
<line x1="459.7" y1="627.7" x2="471.3" y2="639.3" stroke="#111" stroke-width="2.2" stroke-linecap="round"/>
<line x1="459.7" y1="739.8" x2="471.3" y2="751.4" stroke="#111" stroke-width="2.2" stroke-linecap="round"/>
<text x="0" y="0" font-family='"Liberation Sans", sans-serif' font-size="11" fill="#2a2a2a" text-anchor="middle" font-weight="normal" textLength="14" lengthAdjust="spacingAndGlyphs" stroke="#2a2a2a" stroke-width="0.22" transform="translate(457.5,689.5) rotate(-90)">30"</text>
<text x="0" y="0" font-family='"Liberation Sans", sans-serif' font-size="11" fill="#2a2a2a" text-anchor="middle" font-weight="normal" textLength="17" lengthAdjust="spacingAndGlyphs" stroke="#2a2a2a" stroke-width="0.22" transform="translate(481.8,689.5) rotate(-90)">MIN</text>
<circle cx="484.4" cy="647" r="5.1" fill="#fdfdfd" stroke="#222" stroke-width="1.25"/>
<path d="M491.59,649.47 A7.6,7.6 0 0 1 490.14,651.99" fill="none" stroke="#222" stroke-width="1.1"/>
<path d="M485.85,654.46 A7.6,7.6 0 0 1 482.95,654.46" fill="none" stroke="#222" stroke-width="1.1"/>
<path d="M478.66,651.99 A7.6,7.6 0 0 1 477.21,649.47" fill="none" stroke="#222" stroke-width="1.1"/>
<path d="M477.21,644.53 A7.6,7.6 0 0 1 478.66,642.01" fill="none" stroke="#222" stroke-width="1.1"/>
<path d="M482.95,639.54 A7.6,7.6 0 0 1 485.85,639.54" fill="none" stroke="#222" stroke-width="1.1"/>
<path d="M490.14,642.01 A7.6,7.6 0 0 1 491.59,644.53" fill="none" stroke="#222" stroke-width="1.1"/>
<circle cx="711.3" cy="646.9" r="5.1" fill="#fdfdfd" stroke="#222" stroke-width="1.25"/>
<path d="M718.49,649.37 A7.6,7.6 0 0 1 717.04,651.89" fill="none" stroke="#222" stroke-width="1.1"/>
<path d="M712.75,654.36 A7.6,7.6 0 0 1 709.85,654.36" fill="none" stroke="#222" stroke-width="1.1"/>
<path d="M705.56,651.89 A7.6,7.6 0 0 1 704.11,649.37" fill="none" stroke="#222" stroke-width="1.1"/>
<path d="M704.11,644.43 A7.6,7.6 0 0 1 705.56,641.91" fill="none" stroke="#222" stroke-width="1.1"/>
<path d="M709.85,639.44 A7.6,7.6 0 0 1 712.75,639.44" fill="none" stroke="#222" stroke-width="1.1"/>
<path d="M717.04,641.91 A7.6,7.6 0 0 1 718.49,644.43" fill="none" stroke="#222" stroke-width="1.1"/>
<polygon points="614.2,774 619,769.6 714.8,864.8 709.9,869.3" fill="#fdfdfd" stroke="#333" stroke-width="1.1"/>
<path d="M714.8,864.8 A136,136 0 0 0 750,773" fill="none" stroke="#333" stroke-width="1.1" stroke-dasharray="5 3.5"/>
<polygon points="834.1,731.5 839.1,736.5 934.8,640.8 929.9,636.3" fill="#fdfdfd" stroke="#333" stroke-width="1.1"/>
<path d="M837.5,601.7 A136,136 0 0 1 929.9,636.3" fill="none" stroke="#333" stroke-width="1.1" stroke-dasharray="5 3.5"/>
<line x1="747" y1="806.9" x2="832" y2="806.9" stroke="#444" stroke-width="1" />
<line x1="756" y1="778" x2="756" y2="816" stroke="#555" stroke-width="1" />
<line x1="823.2" y1="795" x2="823.2" y2="840" stroke="#555" stroke-width="1" />
<line x1="750.2" y1="812.8" x2="761.8" y2="801.2" stroke="#111" stroke-width="2.2" stroke-linecap="round"/>
<line x1="817.4" y1="812.8" x2="829" y2="801.2" stroke="#111" stroke-width="2.2" stroke-linecap="round"/>
<text x="790" y="799.5" font-family='"Liberation Sans", sans-serif' font-size="11" fill="#2a2a2a" text-anchor="middle" font-weight="normal" textLength="15" lengthAdjust="spacingAndGlyphs" stroke="#2a2a2a" stroke-width="0.22" >18"</text>
<polygon points="636.6,527.3 668.1,558.3 636.6,589.3 605.1,558.3" fill="#000" stroke="#000" stroke-width="1.5" stroke-linejoin="round"/>
<circle cx="636.6" cy="558.3" r="21.6" fill="#fdfdfd"/>
<text x="636.6" y="562.3" font-family='"Liberation Sans", sans-serif' font-size="11" fill="#111" text-anchor="middle" font-weight="normal" textLength="25.5" lengthAdjust="spacingAndGlyphs" stroke="#111" stroke-width="0.22" >SC-1</text>
<text x="636.6" y="523.7" font-family='"Liberation Sans", sans-serif' font-size="10" fill="#111" text-anchor="middle" font-weight="normal" stroke="#111" stroke-width="0.22" >3</text>
<text x="636.6" y="600.7" font-family='"Liberation Sans", sans-serif' font-size="10" fill="#111" text-anchor="middle" font-weight="normal" stroke="#111" stroke-width="0.22" >4</text>
<text x="598" y="562.5" font-family='"Liberation Sans", sans-serif' font-size="10" fill="#111" text-anchor="middle" font-weight="normal" stroke="#111" stroke-width="0.22" >5</text>
<text x="674.6" y="562.5" font-family='"Liberation Sans", sans-serif' font-size="10" fill="#111" text-anchor="middle" font-weight="normal" stroke="#111" stroke-width="0.22" >6</text>
<text x="625.5" y="628.9" font-family='"Liberation Sans", sans-serif' font-size="15.6" fill="#111" text-anchor="middle" font-weight="bold" textLength="41.7" lengthAdjust="spacingAndGlyphs" stroke="#111" stroke-width="0.22" >SAUNA</text>
<polygon points="25.7,526 58,493.7 90.3,526" fill="#3a4fa6"/>
<circle cx="58" cy="526" r="22.4" fill="#fdfdfd" stroke="#3a4fa6" stroke-width="1.05"/>
<line x1="35.6" y1="526" x2="80.4" y2="526" stroke="#3a4fa6" stroke-width="0.8" />
<text x="58" y="520.5" font-family='"Liberation Sans", sans-serif' font-size="11" fill="#3a4fa6" text-anchor="middle" font-weight="normal" textLength="6.5" lengthAdjust="spacingAndGlyphs" stroke="#3a4fa6" stroke-width="0.1" >A</text>
<text x="58" y="540" font-family='"Liberation Sans", sans-serif' font-size="11" fill="#3a4fa6" text-anchor="middle" font-weight="normal" textLength="20.5" lengthAdjust="spacingAndGlyphs" stroke="#3a4fa6" stroke-width="0.1" >SC-2</text>
<polygon points="929,526 961.3,493.7 993.6,526" fill="#3a4fa6"/>
<circle cx="961.3" cy="526" r="22.4" fill="#fdfdfd" stroke="#3a4fa6" stroke-width="1.05"/>
<line x1="938.9" y1="526" x2="983.7" y2="526" stroke="#3a4fa6" stroke-width="0.8" />
<text x="961.3" y="520.5" font-family='"Liberation Sans", sans-serif' font-size="11" fill="#3a4fa6" text-anchor="middle" font-weight="normal" textLength="6.5" lengthAdjust="spacingAndGlyphs" stroke="#3a4fa6" stroke-width="0.1" >A</text>
<text x="961.3" y="540" font-family='"Liberation Sans", sans-serif' font-size="11" fill="#3a4fa6" text-anchor="middle" font-weight="normal" textLength="20.5" lengthAdjust="spacingAndGlyphs" stroke="#3a4fa6" stroke-width="0.1" >SC-2</text>
<line x1="587.6" y1="179" x2="587.6" y2="233" stroke="#444" stroke-width="1" />
<polygon points="587.6,115.2 619.9,147.5 587.6,179.8" fill="#3a4fa6"/>
<circle cx="587.6" cy="147.5" r="22.4" fill="#fdfdfd" stroke="#3a4fa6" stroke-width="1.05"/>
<line x1="565.2" y1="147.5" x2="610" y2="147.5" stroke="#3a4fa6" stroke-width="0.8" />
<text x="587.6" y="142" font-family='"Liberation Sans", sans-serif' font-size="11" fill="#3a4fa6" text-anchor="middle" font-weight="normal" textLength="6.5" lengthAdjust="spacingAndGlyphs" stroke="#3a4fa6" stroke-width="0.1" >B</text>
<text x="587.6" y="161.5" font-family='"Liberation Sans", sans-serif' font-size="11" fill="#3a4fa6" text-anchor="middle" font-weight="normal" textLength="20.5" lengthAdjust="spacingAndGlyphs" stroke="#3a4fa6" stroke-width="0.1" >SC-2</text>
<line x1="587.6" y1="830" x2="587.6" y2="885" stroke="#555" stroke-width="1" />
<polygon points="587.6,884.7 619.9,917 587.6,949.3" fill="#3a4fa6"/>
<circle cx="587.6" cy="917" r="22.4" fill="#fdfdfd" stroke="#3a4fa6" stroke-width="1.05"/>
<line x1="565.2" y1="917" x2="610" y2="917" stroke="#3a4fa6" stroke-width="0.8" />
<text x="587.6" y="911.5" font-family='"Liberation Sans", sans-serif' font-size="11" fill="#3a4fa6" text-anchor="middle" font-weight="normal" textLength="6.5" lengthAdjust="spacingAndGlyphs" stroke="#3a4fa6" stroke-width="0.1" >B</text>
<text x="587.6" y="931" font-family='"Liberation Sans", sans-serif' font-size="11" fill="#3a4fa6" text-anchor="middle" font-weight="normal" textLength="20.5" lengthAdjust="spacingAndGlyphs" stroke="#3a4fa6" stroke-width="0.1" >SC-2</text>
<circle cx="696.6" cy="157" r="16.8" fill="#fdfdfd" stroke="#3a4fa6" stroke-width="1.1"/>
<line x1="679.8" y1="157" x2="713.4" y2="157" stroke="#3a4fa6" stroke-width="1" />
<text x="696.6" y="152" font-family='"Liberation Sans", sans-serif' font-size="9" fill="#3a4fa6" text-anchor="middle" font-weight="normal" stroke="#3a4fa6" stroke-width="0.1" >2</text>
<text x="696.6" y="168" font-family='"Liberation Sans", sans-serif' font-size="9" fill="#3a4fa6" text-anchor="middle" font-weight="normal" textLength="18" lengthAdjust="spacingAndGlyphs" stroke="#3a4fa6" stroke-width="0.1" >SC-2</text>
<circle cx="893.4" cy="162.2" r="16.8" fill="#fdfdfd" stroke="#3a4fa6" stroke-width="1.1"/>
<line x1="876.6" y1="162.2" x2="910.2" y2="162.2" stroke="#3a4fa6" stroke-width="1" />
<text x="893.4" y="157.2" font-family='"Liberation Sans", sans-serif' font-size="9" fill="#3a4fa6" text-anchor="middle" font-weight="normal" stroke="#3a4fa6" stroke-width="0.1" >1</text>
<text x="893.4" y="173.2" font-family='"Liberation Sans", sans-serif' font-size="9" fill="#3a4fa6" text-anchor="middle" font-weight="normal" textLength="18" lengthAdjust="spacingAndGlyphs" stroke="#3a4fa6" stroke-width="0.1" >SC-2</text>
<line x1="688" y1="172.2" x2="672.3" y2="198.4" stroke="#333" stroke-width="1" />
<line x1="881.1" y1="174.9" x2="864.7" y2="192.1" stroke="#333" stroke-width="1" />
<path d="M623.4,219.9 L623.4,208.6 A11.3,11.3 0 0 1 634.7,197.3 L644.1,197.3 M648.9,197.3 L651.8,197.3 M656.9,197.3 L666,197.3 A11.3,11.3 0 0 1 677.3,208.6 L677.3,219.9 M677.3,225.7 L677.3,243.5 A11.3,11.3 0 0 1 666,254.8 L656.9,254.8 M644.1,254.8 L634.7,254.8 A11.3,11.3 0 0 1 623.4,243.5 L623.4,225.7" fill="none" stroke="#333" stroke-width="1.05"/>
<path d="M791.5,222.7 L791.5,201.6 A12,12 0 0 1 803.5,189.6 L823.5,189.6 M828.8,189.6 L831,189.6 M836.8,189.6 L856,189.6 A12,12 0 0 1 868,201.6 L868,222.7 M868,227.6 L868,257.5 A12,12 0 0 1 856,269.5 L836.8,269.5 M828.2,269.5 L803.5,269.5 A12,12 0 0 1 791.5,257.5 L791.5,227.6" fill="none" stroke="#333" stroke-width="1.05"/>
<rect x="476" y="112.5" width="242" height="14.2" fill="#fdfdfd" stroke="none" stroke-width="1" />
<text x="597" y="123.5" font-family='"Liberation Sans", sans-serif' font-size="11.5" fill="#2a2a2a" text-anchor="middle" font-weight="normal" textLength="239" lengthAdjust="spacingAndGlyphs" stroke="#2a2a2a" stroke-width="0.22" >(INSIDE OF STUD TO INSIDE OF STUD) VERIFY IN FIELD</text>
<text x="469.3" y="164.8" font-family='"Liberation Sans", sans-serif' font-size="11.8" fill="#2a2a2a" text-anchor="middle" font-weight="normal" textLength="33.7" lengthAdjust="spacingAndGlyphs" stroke="#2a2a2a" stroke-width="0.22" >WALL 3</text>
<text x="469.2" y="178.4" font-family='"Liberation Sans", sans-serif' font-size="11.8" fill="#2a2a2a" text-anchor="middle" font-weight="normal" textLength="87.6" lengthAdjust="spacingAndGlyphs" stroke="#2a2a2a" stroke-width="0.22" >26 ATLAS HEATERS</text>
<line x1="424.7" y1="167.3" x2="411.5" y2="167.3" stroke="#222" stroke-width="1" />
<line x1="411.5" y1="167.3" x2="392.5" y2="232.9" stroke="#222" stroke-width="1" />
<polygon points="392.5,232.9 393.04,224.21 396.69,225.26" fill="#111"/>
<text x="255.7" y="635.7" font-family='"Liberation Sans", sans-serif' font-size="11.8" fill="#2a2a2a" text-anchor="middle" font-weight="normal" textLength="34.2" lengthAdjust="spacingAndGlyphs" stroke="#2a2a2a" stroke-width="0.22" >WALL 2</text>
<text x="256.5" y="648.2" font-family='"Liberation Sans", sans-serif' font-size="11.8" fill="#2a2a2a" text-anchor="middle" font-weight="normal" textLength="86" lengthAdjust="spacingAndGlyphs" stroke="#2a2a2a" stroke-width="0.22" >31 ATLAS HEATERS</text>
<line x1="300.6" y1="637.4" x2="319.7" y2="637.4" stroke="#222" stroke-width="1" />
<line x1="319.7" y1="637.4" x2="382" y2="604" stroke="#222" stroke-width="1" />
<polygon points="382,604 375.41,609.69 373.61,606.34" fill="#111"/>
<text x="272.7" y="796.4" font-family='"Liberation Sans", sans-serif' font-size="11.8" fill="#2a2a2a" text-anchor="middle" font-weight="normal" textLength="32.4" lengthAdjust="spacingAndGlyphs" stroke="#2a2a2a" stroke-width="0.22" >WALL 1</text>
<text x="272.7" y="810" font-family='"Liberation Sans", sans-serif' font-size="11.8" fill="#2a2a2a" text-anchor="middle" font-weight="normal" textLength="87.2" lengthAdjust="spacingAndGlyphs" stroke="#2a2a2a" stroke-width="0.22" >13 ATLAS HEATERS</text>
<line x1="317.1" y1="799.3" x2="324.6" y2="799.3" stroke="#222" stroke-width="1" />
<line x1="324.6" y1="799.3" x2="379.4" y2="750.8" stroke="#222" stroke-width="1" />
<polygon points="379.4,750.8 374.29,757.86 371.78,755.01" fill="#111"/>
<text x="916.9" y="400.7" font-family='"Liberation Sans", sans-serif' font-size="11.8" fill="#2a2a2a" text-anchor="middle" font-weight="normal" textLength="33.4" lengthAdjust="spacingAndGlyphs" stroke="#2a2a2a" stroke-width="0.22" >WALL 4</text>
<text x="916.4" y="414.3" font-family='"Liberation Sans", sans-serif' font-size="11.8" fill="#2a2a2a" text-anchor="middle" font-weight="normal" textLength="87" lengthAdjust="spacingAndGlyphs" stroke="#2a2a2a" stroke-width="0.22" >21 ATLAS HEATERS</text>
<line x1="872" y1="402.5" x2="860.6" y2="402.5" stroke="#222" stroke-width="1" />
<line x1="860.6" y1="402.5" x2="816.7" y2="422.2" stroke="#222" stroke-width="1" />
<polygon points="816.7,422.2 823.68,416.99 825.23,420.45" fill="#111"/>
<text x="909.2" y="679.4" font-family='"Liberation Sans", sans-serif' font-size="11.8" fill="#2a2a2a" text-anchor="start" font-weight="normal" textLength="90" lengthAdjust="spacingAndGlyphs" stroke="#2a2a2a" stroke-width="0.22" >RECESSED LED CAN</text>
<text x="909.2" y="693.4" font-family='"Liberation Sans", sans-serif' font-size="11.8" fill="#2a2a2a" text-anchor="start" font-weight="normal" textLength="85.8" lengthAdjust="spacingAndGlyphs" stroke="#2a2a2a" stroke-width="0.22" >LIGHTS BY OTHERS</text>
<line x1="902" y1="674.8" x2="882.4" y2="674.8" stroke="#222" stroke-width="1" />
<line x1="882.4" y1="674.8" x2="721" y2="645.4" stroke="#222" stroke-width="1" />
<polygon points="721,645.4 729.7,645.05 729.02,648.79" fill="#111"/>
<text x="903.6" y="894.3" font-family='"Liberation Sans", sans-serif' font-size="11.8" fill="#2a2a2a" text-anchor="start" font-weight="normal" textLength="113.7" lengthAdjust="spacingAndGlyphs" stroke="#2a2a2a" stroke-width="0.22" >GLASS DOOR BY OTHERS</text>
<line x1="896.7" y1="889.5" x2="875.9" y2="889.5" stroke="#222" stroke-width="1" />
<line x1="875.9" y1="889.5" x2="745.5" y2="821" stroke="#222" stroke-width="1" />
<polygon points="745.5,821 753.91,823.27 752.14,826.63" fill="#111"/>
<polyline points="601.8,757 601.8,603 752,757" fill="none" stroke="#e8453c" stroke-width="1.6"/>
<polyline points="646.6,728.5 706,927.5 719,927.5" fill="none" stroke="#e8453c" stroke-width="1.6"/>
<polyline points="644.7,736 646.6,728.3 652.7,733.8" fill="none" stroke="#e8453c" stroke-width="1.7" stroke-linejoin="miter"/>
<rect x="719.3" y="916" width="124.2" height="23.8" fill="#fdfdfd" stroke="#e8453c" stroke-width="2" />
<text x="720.5" y="924" font-family='"Liberation Serif", serif' font-size="8" fill="#1a1a3a" text-anchor="start" font-weight="normal" textLength="60" lengthAdjust="spacingAndGlyphs" >DOORS OPENING</text>
<text x="1014.7" y="36" font-family='"Liberation Sans", sans-serif' font-size="22" fill="#111" text-anchor="middle" font-weight="normal" stroke="#111" stroke-width="0.22" >N</text>
<line x1="1005.6" y1="39.8" x2="1024" y2="39.8" stroke="#111" stroke-width="1.8" />
<text x="1020.2" y="61" font-family='"Liberation Sans", sans-serif' font-size="10.3" fill="#222" text-anchor="middle" font-weight="normal" textLength="4.6" lengthAdjust="spacingAndGlyphs" stroke="#222" stroke-width="0.22" >1</text>
<text x="1020.2" y="74.4" font-family='"Liberation Sans", sans-serif' font-size="10.3" fill="#222" text-anchor="middle" font-weight="normal" textLength="4.6" lengthAdjust="spacingAndGlyphs" stroke="#222" stroke-width="0.22" >2</text>
<text x="1020.2" y="87.8" font-family='"Liberation Sans", sans-serif' font-size="10.3" fill="#222" text-anchor="middle" font-weight="normal" textLength="4.6" lengthAdjust="spacingAndGlyphs" stroke="#222" stroke-width="0.22" >3</text>
<text x="1020.2" y="101.2" font-family='"Liberation Sans", sans-serif' font-size="10.3" fill="#222" text-anchor="middle" font-weight="normal" textLength="4.6" lengthAdjust="spacingAndGlyphs" stroke="#222" stroke-width="0.22" >4</text>
<text x="1020.2" y="114.6" font-family='"Liberation Sans", sans-serif' font-size="10.3" fill="#222" text-anchor="middle" font-weight="normal" textLength="4.6" lengthAdjust="spacingAndGlyphs" stroke="#222" stroke-width="0.22" >5</text>
<text x="1020.2" y="128" font-family='"Liberation Sans", sans-serif' font-size="10.3" fill="#222" text-anchor="middle" font-weight="normal" textLength="4.6" lengthAdjust="spacingAndGlyphs" stroke="#222" stroke-width="0.22" >6</text>
</svg></body></html>
